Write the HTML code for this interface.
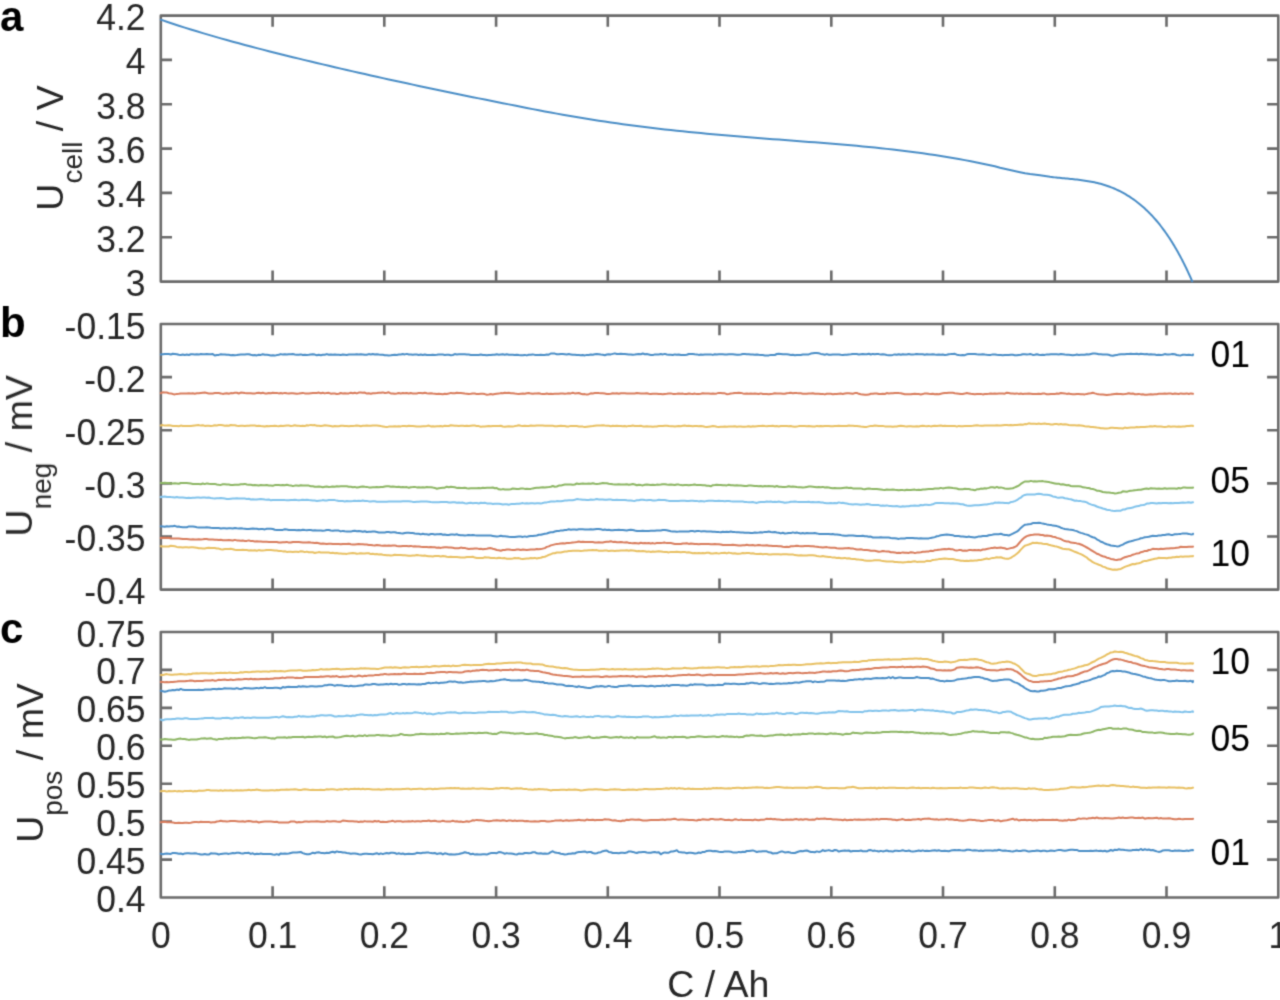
<!DOCTYPE html>
<html><head><meta charset="utf-8"><style>
html,body{margin:0;padding:0;background:#fff;overflow:hidden;}
svg{display:block;}
.t{font-family:"Liberation Sans",Arial,sans-serif;font-size:35.5px;fill:#262626;}
.l{font-family:"Liberation Sans",Arial,sans-serif;font-size:37.5px;fill:#262626;}
.p{font-family:"Liberation Sans",Arial,sans-serif;font-size:42px;font-weight:bold;fill:#000;}
.a{font-family:"Liberation Sans",Arial,sans-serif;font-size:35.5px;fill:#000;}
</style></head><body>
<svg width="1280" height="1000" viewBox="0 0 1280 1000">
<defs><filter id="bl" x="0" y="0" width="1280" height="1000" filterUnits="userSpaceOnUse"><feConvolveMatrix order="3" kernelMatrix="0.0277 0.1110 0.0277 0.1110 0.4452 0.1110 0.0277 0.1110 0.0277" divisor="1" preserveAlpha="false" edgeMode="none"/></filter></defs>
<rect width="1280" height="1000" fill="#fff"/>
<g filter="url(#bl)">
<path d="M160.8 237.3h11.2M1278.3 237.3h-11.2M160.8 192.9h11.2M1278.3 192.9h-11.2M160.8 148.6h11.2M1278.3 148.6h-11.2M160.8 104.3h11.2M1278.3 104.3h-11.2M160.8 59.9h11.2M1278.3 59.9h-11.2M272.6 281.6v-11.2M272.6 15.6v11.2M384.3 281.6v-11.2M384.3 15.6v11.2M496.1 281.6v-11.2M496.1 15.6v11.2M607.8 281.6v-11.2M607.8 15.6v11.2M719.5 281.6v-11.2M719.5 15.6v11.2M831.3 281.6v-11.2M831.3 15.6v11.2M943.0 281.6v-11.2M943.0 15.6v11.2M1054.8 281.6v-11.2M1054.8 15.6v11.2M1166.5 281.6v-11.2M1166.5 15.6v11.2" stroke="#6a6a6a" stroke-width="2.6" fill="none"/>
<rect x="160.8" y="15.6" width="1117.5" height="266.0" fill="none" stroke="#6a6a6a" stroke-width="2.6" stroke-linejoin="round"/>
<text transform="translate(145.5 296.1) scale(1 1.045)" text-anchor="end" class="t">3</text>
<text transform="translate(145.5 251.8) scale(1 1.045)" text-anchor="end" class="t">3.2</text>
<text transform="translate(145.5 207.4) scale(1 1.045)" text-anchor="end" class="t">3.4</text>
<text transform="translate(145.5 163.1) scale(1 1.045)" text-anchor="end" class="t">3.6</text>
<text transform="translate(145.5 118.8) scale(1 1.045)" text-anchor="end" class="t">3.8</text>
<text transform="translate(145.5 74.4) scale(1 1.045)" text-anchor="end" class="t">4</text>
<text transform="translate(145.5 30.1) scale(1 1.045)" text-anchor="end" class="t">4.2</text>
<path d="M160.8 536.5h11.2M1278.3 536.5h-11.2M160.8 483.4h11.2M1278.3 483.4h-11.2M160.8 430.2h11.2M1278.3 430.2h-11.2M160.8 377.1h11.2M1278.3 377.1h-11.2M272.6 589.6v-11.2M272.6 324.0v11.2M384.3 589.6v-11.2M384.3 324.0v11.2M496.1 589.6v-11.2M496.1 324.0v11.2M607.8 589.6v-11.2M607.8 324.0v11.2M719.5 589.6v-11.2M719.5 324.0v11.2M831.3 589.6v-11.2M831.3 324.0v11.2M943.0 589.6v-11.2M943.0 324.0v11.2M1054.8 589.6v-11.2M1054.8 324.0v11.2M1166.5 589.6v-11.2M1166.5 324.0v11.2" stroke="#6a6a6a" stroke-width="2.6" fill="none"/>
<rect x="160.8" y="324.0" width="1117.5" height="265.6" fill="none" stroke="#6a6a6a" stroke-width="2.6" stroke-linejoin="round"/>
<text transform="translate(145.5 604.1) scale(1 1.045)" text-anchor="end" class="t">-0.4</text>
<text transform="translate(145.5 551.0) scale(1 1.045)" text-anchor="end" class="t">-0.35</text>
<text transform="translate(145.5 497.9) scale(1 1.045)" text-anchor="end" class="t">-0.3</text>
<text transform="translate(145.5 444.7) scale(1 1.045)" text-anchor="end" class="t">-0.25</text>
<text transform="translate(145.5 391.6) scale(1 1.045)" text-anchor="end" class="t">-0.2</text>
<text transform="translate(145.5 338.5) scale(1 1.045)" text-anchor="end" class="t">-0.15</text>
<path d="M160.8 859.6h11.2M1278.3 859.6h-11.2M160.8 821.6h11.2M1278.3 821.6h-11.2M160.8 783.7h11.2M1278.3 783.7h-11.2M160.8 745.8h11.2M1278.3 745.8h-11.2M160.8 707.9h11.2M1278.3 707.9h-11.2M160.8 669.9h11.2M1278.3 669.9h-11.2M272.6 897.5v-11.2M272.6 632.0v11.2M384.3 897.5v-11.2M384.3 632.0v11.2M496.1 897.5v-11.2M496.1 632.0v11.2M607.8 897.5v-11.2M607.8 632.0v11.2M719.5 897.5v-11.2M719.5 632.0v11.2M831.3 897.5v-11.2M831.3 632.0v11.2M943.0 897.5v-11.2M943.0 632.0v11.2M1054.8 897.5v-11.2M1054.8 632.0v11.2M1166.5 897.5v-11.2M1166.5 632.0v11.2" stroke="#6a6a6a" stroke-width="2.6" fill="none"/>
<rect x="160.8" y="632.0" width="1117.5" height="265.5" fill="none" stroke="#6a6a6a" stroke-width="2.6" stroke-linejoin="round"/>
<text transform="translate(145.5 912.0) scale(1 1.045)" text-anchor="end" class="t">0.4</text>
<text transform="translate(145.5 874.1) scale(1 1.045)" text-anchor="end" class="t">0.45</text>
<text transform="translate(145.5 836.1) scale(1 1.045)" text-anchor="end" class="t">0.5</text>
<text transform="translate(145.5 798.2) scale(1 1.045)" text-anchor="end" class="t">0.55</text>
<text transform="translate(145.5 760.3) scale(1 1.045)" text-anchor="end" class="t">0.6</text>
<text transform="translate(145.5 722.4) scale(1 1.045)" text-anchor="end" class="t">0.65</text>
<text transform="translate(145.5 684.4) scale(1 1.045)" text-anchor="end" class="t">0.7</text>
<text transform="translate(145.5 646.5) scale(1 1.045)" text-anchor="end" class="t">0.75</text>
<path d="M160.80 19.67L166.80 21.72L172.80 23.72L178.80 25.68L184.80 27.60L190.80 29.49L196.80 31.33L202.80 33.14L208.80 34.91L214.80 36.66L220.80 38.37L226.80 40.05L232.80 41.71L238.80 43.34L244.80 44.95L250.80 46.54L256.80 48.11L262.80 49.65L268.80 51.18L274.80 52.70L280.80 54.20L286.80 55.70L292.80 57.17L298.80 58.64L304.80 60.10L310.80 61.55L316.80 62.98L322.80 64.40L328.80 65.82L334.80 67.22L340.80 68.62L346.80 70.00L352.80 71.37L358.80 72.74L364.80 74.09L370.80 75.44L376.80 76.78L382.80 78.11L388.80 79.43L394.80 80.74L400.80 82.05L406.80 83.34L412.80 84.63L418.80 85.91L424.80 87.19L430.80 88.46L436.80 89.72L442.80 90.97L448.80 92.22L454.80 93.46L460.80 94.70L466.80 95.92L472.80 97.15L478.80 98.37L484.80 99.58L490.80 100.79L496.80 101.99L502.80 103.19L508.80 104.39L514.80 105.58L520.80 106.76L526.80 107.94L532.80 109.11L538.80 110.26L544.80 111.40L550.80 112.52L556.80 113.63L562.80 114.71L568.80 115.77L574.80 116.81L580.80 117.82L586.80 118.80L592.80 119.76L598.80 120.70L604.80 121.61L610.80 122.49L616.80 123.35L622.80 124.19L628.80 125.01L634.80 125.80L640.80 126.57L646.80 127.31L652.80 128.03L658.80 128.73L664.80 129.41L670.80 130.07L676.80 130.72L682.80 131.34L688.80 131.94L694.80 132.53L700.80 133.11L706.80 133.67L712.80 134.22L718.80 134.75L724.80 135.27L730.80 135.78L736.80 136.28L742.80 136.78L748.80 137.26L754.80 137.74L760.80 138.21L766.80 138.68L772.80 139.14L778.80 139.60L784.80 140.05L790.80 140.50L796.80 140.96L802.80 141.42L808.80 141.88L814.80 142.34L820.80 142.81L826.80 143.29L832.80 143.78L838.80 144.28L844.80 144.79L850.80 145.32L856.80 145.86L862.80 146.42L868.80 147.00L874.80 147.60L880.80 148.23L886.80 148.87L892.80 149.54L898.80 150.24L904.80 150.97L910.80 151.72L916.80 152.51L922.80 153.33L928.80 154.18L934.80 155.07L940.80 156.00L946.80 156.97L952.80 157.98L958.80 159.03L964.80 160.12L970.80 161.26L976.80 162.45L982.80 163.68L988.80 164.96L994.80 166.30L1000.00 167.80L1010.00 170.00L1020.00 172.20L1025.00 173.30L1030.00 174.10L1040.00 175.30L1050.02 176.85L1051.57 177.03L1053.13 177.21L1054.69 177.38L1056.26 177.54L1057.84 177.70L1059.41 177.85L1061.00 178.01L1062.58 178.16L1064.18 178.31L1065.77 178.46L1067.36 178.61L1068.96 178.76L1070.56 178.92L1072.16 179.08L1073.76 179.25L1075.36 179.42L1076.97 179.60L1078.57 179.79L1080.17 179.99L1081.76 180.20L1083.36 180.42L1084.95 180.65L1086.54 180.89L1088.13 181.15L1089.71 181.42L1091.29 181.71L1092.86 182.02L1094.43 182.34L1095.99 182.69L1097.55 183.05L1099.10 183.43L1100.64 183.84L1102.18 184.27L1103.70 184.72L1105.22 185.19L1106.73 185.69L1108.23 186.22L1109.72 186.76L1111.21 187.33L1112.68 187.92L1114.14 188.54L1115.60 189.17L1117.04 189.83L1118.47 190.51L1119.90 191.21L1121.31 191.93L1122.71 192.68L1124.09 193.44L1125.47 194.23L1126.84 195.03L1128.19 195.86L1129.53 196.71L1130.85 197.57L1132.17 198.46L1133.47 199.36L1134.76 200.28L1136.03 201.23L1137.29 202.19L1138.54 203.17L1139.77 204.16L1140.99 205.18L1142.19 206.21L1143.39 207.26L1144.57 208.32L1145.73 209.40L1146.89 210.50L1148.03 211.61L1149.16 212.73L1150.27 213.87L1151.38 215.03L1152.47 216.19L1153.55 217.38L1154.61 218.57L1155.67 219.78L1156.71 221.00L1157.74 222.23L1158.76 223.47L1159.77 224.72L1160.76 225.99L1161.74 227.26L1162.72 228.55L1163.68 229.84L1164.63 231.15L1165.57 232.46L1166.49 233.78L1167.41 235.11L1168.32 236.45L1169.21 237.80L1170.10 239.15L1170.97 240.51L1171.84 241.87L1172.69 243.24L1173.53 244.62L1174.37 246.00L1175.19 247.39L1176.00 248.78L1176.81 250.18L1177.60 251.58L1178.38 252.99L1179.16 254.39L1179.92 255.80L1180.68 257.21L1181.43 258.63L1182.16 260.04L1182.89 261.46L1183.61 262.88L1184.32 264.30L1185.02 265.72L1185.72 267.13L1186.40 268.55L1187.08 269.97L1187.75 271.39L1188.41 272.80L1189.06 274.21L1189.70 275.62L1190.34 277.03L1190.97 278.43L1191.59 279.83L1192.20 281.23" fill="none" stroke="#4a8dc6" stroke-width="2.0" stroke-linejoin="round" stroke-linecap="round"/>
<path d="M160.8 354.5L162.8 354.3L164.8 354.1L166.8 354.1L168.8 354.0L170.8 354.5L172.8 353.8L174.8 353.9L176.8 354.3L178.8 354.8L180.8 354.9L182.8 354.6L184.8 354.9L186.8 354.6L188.8 355.0L190.8 354.2L192.8 354.3L194.8 354.5L196.8 354.2L198.8 354.6L200.8 354.0L202.8 354.2L204.8 354.2L206.8 354.0L208.8 354.3L210.8 354.3L212.8 354.1L214.8 355.5L216.8 355.0L218.8 354.9L220.8 354.3L222.8 354.5L224.8 354.4L226.8 354.8L228.8 354.8L230.8 355.2L232.8 355.0L234.8 355.2L236.8 355.1L238.8 354.8L240.8 354.6L242.8 354.6L244.8 354.4L246.8 354.2L248.8 354.3L250.8 354.8L252.8 355.2L254.8 355.1L256.8 355.4L258.8 354.8L260.8 354.9L262.8 354.3L264.8 354.7L266.8 354.8L268.8 355.0L270.8 355.4L272.8 355.3L274.8 355.6L276.8 355.1L278.8 354.8L280.8 354.1L282.8 354.6L284.8 354.2L286.8 354.6L288.8 354.2L290.8 354.2L292.8 354.1L294.8 354.5L296.8 354.8L298.8 354.8L300.8 354.4L302.8 355.0L304.8 354.8L306.8 354.9L308.8 354.8L310.8 354.5L312.8 354.2L314.8 354.6L316.8 355.2L318.8 354.8L320.8 355.2L322.8 354.7L324.8 354.7L326.8 354.1L328.8 354.8L330.8 354.5L332.8 354.7L334.8 354.5L336.8 354.7L338.8 354.7L340.8 355.0L342.8 354.6L344.8 354.7L346.8 354.9L348.8 354.6L350.8 354.5L352.8 354.5L354.8 354.5L356.8 354.2L358.8 354.4L360.8 354.2L362.8 354.4L364.8 354.7L366.8 354.7L368.8 354.1L370.8 354.4L372.8 354.0L374.8 354.5L376.8 354.2L378.8 354.5L380.8 354.7L382.8 354.8L384.8 355.3L386.8 355.2L388.8 355.4L390.8 355.3L392.8 355.0L394.8 354.8L396.8 354.9L398.8 354.6L400.8 354.4L402.8 354.1L404.8 354.4L406.8 353.9L408.8 354.5L410.8 354.4L412.8 354.7L414.8 354.5L416.8 354.5L418.8 354.9L420.8 354.5L422.8 354.9L424.8 354.5L426.8 355.0L428.8 355.1L430.8 355.1L432.8 354.7L434.8 354.9L436.8 354.8L438.8 354.6L440.8 354.5L442.8 354.6L444.8 354.9L446.8 354.8L448.8 354.8L450.8 355.3L452.8 355.0L454.8 354.1L456.8 354.4L458.8 354.3L460.8 354.3L462.8 354.2L464.8 354.2L466.8 354.5L468.8 354.6L470.8 354.9L472.8 354.9L474.8 354.9L476.8 355.0L478.8 354.9L480.8 354.5L482.8 354.9L484.8 354.9L486.8 355.3L488.8 354.9L490.8 355.1L492.8 354.7L494.8 354.8L496.8 354.3L498.8 354.7L500.8 354.4L502.8 354.3L504.8 354.7L506.8 354.3L508.8 354.7L510.8 354.7L512.8 354.7L514.8 355.0L516.8 354.7L518.8 355.1L520.8 355.2L522.8 355.2L524.8 354.9L526.8 355.4L528.8 354.8L530.8 354.7L532.8 354.4L534.8 354.9L536.8 355.0L538.8 354.9L540.8 354.8L542.8 355.0L544.8 354.9L546.8 354.6L548.8 354.7L550.8 353.5L552.8 353.5L554.8 353.6L556.8 354.2L558.8 354.2L560.8 353.9L562.8 354.1L564.8 354.3L566.8 354.5L568.8 354.1L570.8 354.4L572.8 354.7L574.8 354.7L576.8 355.1L578.8 355.1L580.8 355.3L582.8 355.0L584.8 355.4L586.8 354.9L588.8 355.0L590.8 354.6L592.8 354.7L594.8 354.2L596.8 354.1L598.8 354.2L600.8 354.5L602.8 354.7L604.8 355.2L606.8 354.5L608.8 354.2L610.8 354.4L612.8 353.9L614.8 353.4L616.8 354.0L618.8 354.1L620.8 353.7L622.8 354.1L624.8 354.0L626.8 354.2L628.8 354.4L630.8 354.4L632.8 354.8L634.8 354.6L636.8 354.3L638.8 354.1L640.8 354.2L642.8 353.5L644.8 354.2L646.8 354.1L648.8 354.5L650.8 354.9L652.8 355.1L654.8 354.4L656.8 354.5L658.8 354.4L660.8 354.1L662.8 354.4L664.8 353.9L666.8 354.5L668.8 354.7L670.8 354.8L672.8 355.0L674.8 354.4L676.8 354.8L678.8 354.5L680.8 355.0L682.8 354.9L684.8 355.1L686.8 354.8L688.8 354.0L690.8 354.0L692.8 354.1L694.8 354.3L696.8 354.4L698.8 354.9L700.8 354.5L702.8 354.7L704.8 354.4L706.8 354.4L708.8 354.6L710.8 354.4L712.8 354.9L714.8 354.3L716.8 354.4L718.8 354.2L720.8 354.2L722.8 354.3L724.8 354.4L726.8 354.5L728.8 354.3L730.8 354.3L732.8 354.3L734.8 354.5L736.8 354.7L738.8 354.7L740.8 354.5L742.8 354.1L744.8 354.1L746.8 354.2L748.8 354.3L750.8 354.6L752.8 354.5L754.8 354.7L756.8 354.4L758.8 354.7L760.8 354.9L762.8 355.1L764.8 355.4L766.8 355.4L768.8 355.4L770.8 354.9L772.8 355.0L774.8 355.0L776.8 354.0L778.8 353.8L780.8 354.0L782.8 354.3L784.8 354.3L786.8 354.3L788.8 354.5L790.8 354.9L792.8 354.8L794.8 355.3L796.8 355.0L798.8 355.0L800.8 355.0L802.8 354.6L804.8 354.4L806.8 354.5L808.8 354.4L810.8 353.6L812.8 353.2L814.8 352.9L816.8 353.0L818.8 353.3L820.8 353.9L822.8 354.3L824.8 354.7L826.8 354.1L828.8 354.8L830.8 354.7L832.8 354.4L834.8 354.5L836.8 354.5L838.8 354.4L840.8 354.7L842.8 354.9L844.8 354.7L846.8 354.8L848.8 354.4L850.8 354.3L852.8 354.1L854.8 354.1L856.8 354.1L858.8 354.5L860.8 354.2L862.8 354.0L864.8 354.3L866.8 354.2L868.8 353.7L870.8 354.5L872.8 353.9L874.8 354.3L876.8 354.0L878.8 354.1L880.8 354.6L882.8 354.3L884.8 354.6L886.8 355.0L888.8 355.2L890.8 355.3L892.8 354.9L894.8 354.4L896.8 354.8L898.8 354.3L900.8 354.8L902.8 354.2L904.8 354.5L906.8 354.5L908.8 354.1L910.8 354.4L912.8 354.5L914.8 354.3L916.8 354.0L918.8 354.2L920.8 354.2L922.8 354.2L924.8 354.7L926.8 354.3L928.8 354.6L930.8 354.4L932.8 354.2L934.8 354.5L936.8 354.7L938.8 354.6L940.8 354.8L942.8 354.6L944.8 355.0L946.8 354.8L948.8 354.2L950.8 354.1L952.8 353.9L954.8 353.8L956.8 354.7L958.8 355.1L960.8 355.3L962.8 355.1L964.8 355.2L966.8 354.3L968.8 354.1L970.8 354.1L972.8 354.0L974.8 353.9L976.8 354.2L978.8 354.4L980.8 354.6L982.8 354.3L984.8 354.6L986.8 354.8L988.8 354.9L990.8 354.9L992.8 354.4L994.8 354.5L996.8 354.8L998.8 354.9L1000.8 355.1L1002.8 355.3L1004.8 355.1L1006.8 355.1L1008.8 354.9L1010.8 354.7L1012.8 354.8L1014.8 355.2L1016.8 355.2L1018.8 354.9L1020.8 354.7L1022.8 354.2L1024.8 354.3L1026.8 354.4L1028.8 354.3L1030.8 354.1L1032.8 354.9L1034.8 354.7L1036.8 354.2L1038.8 354.8L1040.8 355.0L1042.8 354.8L1044.8 354.9L1046.8 354.4L1048.8 354.5L1050.8 354.3L1052.8 354.3L1054.8 354.2L1056.8 354.3L1058.8 354.4L1060.8 354.1L1062.8 354.3L1064.8 354.6L1066.8 354.7L1068.8 354.8L1070.8 355.0L1072.8 355.3L1074.8 355.1L1076.8 354.5L1078.8 354.9L1080.8 354.8L1082.8 354.7L1084.8 354.7L1086.8 354.2L1088.8 354.5L1090.8 354.0L1092.8 353.5L1094.8 353.6L1096.8 353.8L1098.8 354.3L1100.8 354.3L1102.8 354.6L1104.8 354.6L1106.8 354.5L1108.8 354.8L1110.8 355.6L1112.8 355.7L1114.8 355.2L1116.8 355.1L1118.8 354.4L1120.8 354.2L1122.8 354.2L1124.8 354.3L1126.8 354.1L1128.8 354.0L1130.8 353.8L1132.8 353.9L1134.8 354.0L1136.8 353.7L1138.8 354.2L1140.8 353.7L1142.8 353.9L1144.8 354.2L1146.8 354.1L1148.8 354.5L1150.8 354.2L1152.8 354.6L1154.8 354.5L1156.8 355.1L1158.8 354.7L1160.8 354.9L1162.8 354.8L1164.8 354.1L1166.8 354.5L1168.8 354.4L1170.8 354.3L1172.8 354.1L1174.8 354.3L1176.8 355.0L1178.8 355.3L1180.8 355.4L1182.8 354.8L1184.8 354.8L1186.8 355.1L1188.8 354.8L1190.8 355.1L1192.8 355.3L1193.0 354.5" fill="none" stroke="#4a8dc6" stroke-width="2.0" stroke-linejoin="round" stroke-linecap="round"/>
<path d="M160.8 393.2L162.8 392.3L164.8 392.4L166.8 392.5L168.8 393.2L170.8 393.4L172.8 394.0L174.8 394.4L176.8 393.9L178.8 393.7L180.8 393.4L182.8 393.6L184.8 393.6L186.8 393.4L188.8 393.3L190.8 393.4L192.8 393.3L194.8 393.7L196.8 393.3L198.8 393.3L200.8 393.0L202.8 392.7L204.8 392.6L206.8 393.0L208.8 393.4L210.8 393.4L212.8 393.4L214.8 393.1L216.8 393.1L218.8 393.0L220.8 393.4L222.8 393.9L224.8 393.6L226.8 393.3L228.8 393.8L230.8 393.1L232.8 393.2L234.8 392.8L236.8 392.8L238.8 393.5L240.8 392.6L242.8 392.7L244.8 393.1L246.8 393.3L248.8 393.3L250.8 393.3L252.8 393.6L254.8 393.6L256.8 392.9L258.8 392.7L260.8 393.3L262.8 392.7L264.8 393.4L266.8 393.5L268.8 393.1L270.8 393.3L272.8 392.8L274.8 392.9L276.8 392.9L278.8 393.4L280.8 393.1L282.8 393.4L284.8 392.9L286.8 393.2L288.8 393.4L290.8 393.3L292.8 393.3L294.8 393.5L296.8 393.7L298.8 393.5L300.8 393.2L302.8 392.9L304.8 393.4L306.8 393.6L308.8 393.5L310.8 393.3L312.8 393.1L314.8 392.9L316.8 392.9L318.8 392.6L320.8 393.3L322.8 392.8L324.8 393.4L326.8 392.9L328.8 392.8L330.8 393.7L332.8 393.4L334.8 393.6L336.8 394.0L338.8 393.8L340.8 393.0L342.8 393.4L344.8 393.2L346.8 393.4L348.8 393.4L350.8 392.8L352.8 393.3L354.8 392.8L356.8 393.4L358.8 392.6L360.8 392.5L362.8 392.7L364.8 392.6L366.8 393.6L368.8 393.3L370.8 393.7L372.8 393.2L374.8 393.3L376.8 393.1L378.8 392.8L380.8 392.8L382.8 392.4L384.8 393.0L386.8 392.8L388.8 392.3L390.8 393.5L392.8 393.4L394.8 393.8L396.8 393.5L398.8 393.1L400.8 393.4L402.8 393.1L404.8 393.3L406.8 393.1L408.8 393.4L410.8 393.1L412.8 393.5L414.8 393.4L416.8 393.5L418.8 392.9L420.8 393.0L422.8 393.3L424.8 392.7L426.8 393.2L428.8 393.4L430.8 393.3L432.8 393.6L434.8 393.7L436.8 394.0L438.8 393.8L440.8 394.0L442.8 394.2L444.8 393.8L446.8 394.0L448.8 393.6L450.8 392.9L452.8 393.2L454.8 393.3L456.8 392.8L458.8 393.0L460.8 393.1L462.8 393.2L464.8 393.5L466.8 393.7L468.8 394.0L470.8 393.8L472.8 393.5L474.8 393.5L476.8 394.1L478.8 393.9L480.8 393.7L482.8 393.8L484.8 394.1L486.8 394.7L488.8 394.5L490.8 394.1L492.8 394.4L494.8 394.0L496.8 393.7L498.8 393.6L500.8 393.1L502.8 393.3L504.8 392.7L506.8 392.9L508.8 392.8L510.8 393.2L512.8 393.3L514.8 393.6L516.8 393.8L518.8 393.9L520.8 393.7L522.8 393.6L524.8 393.7L526.8 393.2L528.8 393.0L530.8 393.6L532.8 393.8L534.8 393.4L536.8 393.4L538.8 393.3L540.8 393.7L542.8 394.0L544.8 393.9L546.8 393.6L548.8 394.0L550.8 393.7L552.8 393.9L554.8 393.8L556.8 393.8L558.8 393.8L560.8 393.5L562.8 393.6L564.8 393.8L566.8 393.6L568.8 393.3L570.8 393.4L572.8 392.8L574.8 393.4L576.8 393.2L578.8 393.0L580.8 393.8L582.8 394.3L584.8 394.1L586.8 394.6L588.8 394.2L590.8 393.3L592.8 393.4L594.8 393.1L596.8 392.9L598.8 393.1L600.8 393.2L602.8 393.2L604.8 393.5L606.8 393.9L608.8 394.0L610.8 393.8L612.8 393.3L614.8 393.4L616.8 393.3L618.8 393.8L620.8 393.2L622.8 393.2L624.8 393.3L626.8 393.5L628.8 393.5L630.8 393.6L632.8 393.5L634.8 393.4L636.8 393.0L638.8 393.2L640.8 393.4L642.8 393.4L644.8 393.6L646.8 393.2L648.8 393.7L650.8 394.0L652.8 393.7L654.8 393.8L656.8 393.8L658.8 394.0L660.8 394.0L662.8 394.2L664.8 393.9L666.8 393.8L668.8 393.6L670.8 393.4L672.8 393.9L674.8 393.9L676.8 393.8L678.8 393.6L680.8 393.7L682.8 393.6L684.8 394.1L686.8 394.0L688.8 393.6L690.8 393.8L692.8 393.9L694.8 393.6L696.8 394.1L698.8 393.9L700.8 393.7L702.8 393.3L704.8 393.4L706.8 393.6L708.8 393.5L710.8 393.7L712.8 393.6L714.8 393.8L716.8 393.4L718.8 392.9L720.8 393.0L722.8 393.2L724.8 393.3L726.8 394.2L728.8 393.9L730.8 393.5L732.8 393.3L734.8 392.9L736.8 393.1L738.8 392.7L740.8 392.9L742.8 393.4L744.8 393.8L746.8 393.6L748.8 393.7L750.8 393.5L752.8 393.7L754.8 393.6L756.8 393.7L758.8 394.0L760.8 393.4L762.8 394.0L764.8 393.9L766.8 393.9L768.8 394.2L770.8 393.9L772.8 393.8L774.8 393.2L776.8 393.4L778.8 393.4L780.8 393.4L782.8 393.7L784.8 393.7L786.8 393.2L788.8 393.1L790.8 392.8L792.8 393.2L794.8 392.9L796.8 393.1L798.8 393.2L800.8 393.3L802.8 393.7L804.8 393.7L806.8 393.8L808.8 393.4L810.8 393.4L812.8 393.2L814.8 393.7L816.8 393.8L818.8 393.8L820.8 394.1L822.8 393.9L824.8 394.4L826.8 393.7L828.8 393.8L830.8 393.8L832.8 394.2L834.8 393.9L836.8 394.0L838.8 393.8L840.8 393.6L842.8 394.0L844.8 393.6L846.8 393.2L848.8 393.3L850.8 393.5L852.8 393.8L854.8 393.1L856.8 392.9L858.8 393.8L860.8 394.2L862.8 394.5L864.8 394.8L866.8 394.7L868.8 394.6L870.8 393.8L872.8 393.8L874.8 393.4L876.8 393.5L878.8 394.0L880.8 393.9L882.8 393.8L884.8 394.0L886.8 393.1L888.8 393.4L890.8 393.3L892.8 393.3L894.8 393.1L896.8 392.9L898.8 393.1L900.8 393.2L902.8 393.7L904.8 394.2L906.8 394.2L908.8 394.2L910.8 394.3L912.8 393.9L914.8 393.8L916.8 393.9L918.8 394.1L920.8 394.4L922.8 394.1L924.8 393.4L926.8 393.4L928.8 393.8L930.8 393.9L932.8 393.7L934.8 394.2L936.8 394.1L938.8 394.3L940.8 393.7L942.8 393.3L944.8 393.0L946.8 393.0L948.8 392.7L950.8 392.8L952.8 392.8L954.8 393.3L956.8 393.4L958.8 393.7L960.8 394.0L962.8 394.0L964.8 393.6L966.8 393.0L968.8 393.4L970.8 393.8L972.8 394.0L974.8 394.2L976.8 394.1L978.8 394.1L980.8 393.9L982.8 394.4L984.8 394.0L986.8 393.9L988.8 393.8L990.8 393.5L992.8 393.8L994.8 393.5L996.8 393.7L998.8 393.5L1000.8 393.6L1002.8 393.5L1004.8 393.7L1006.8 392.7L1008.8 393.1L1010.8 393.5L1012.8 393.4L1014.8 393.7L1016.8 393.4L1018.8 393.9L1020.8 393.5L1022.8 393.9L1024.8 393.8L1026.8 393.7L1028.8 393.6L1030.8 393.8L1032.8 394.1L1034.8 394.0L1036.8 394.1L1038.8 393.7L1040.8 394.0L1042.8 393.6L1044.8 393.6L1046.8 394.2L1048.8 394.3L1050.8 394.1L1052.8 393.9L1054.8 394.1L1056.8 393.5L1058.8 393.7L1060.8 393.0L1062.8 393.2L1064.8 393.4L1066.8 393.9L1068.8 393.5L1070.8 394.1L1072.8 394.2L1074.8 394.3L1076.8 394.1L1078.8 394.0L1080.8 394.2L1082.8 394.2L1084.8 394.4L1086.8 393.9L1088.8 393.5L1090.8 393.3L1092.8 392.7L1094.8 393.4L1096.8 393.9L1098.8 394.3L1100.8 394.4L1102.8 394.5L1104.8 394.7L1106.8 395.0L1108.8 394.8L1110.8 394.6L1112.8 394.3L1114.8 394.0L1116.8 393.8L1118.8 393.9L1120.8 393.9L1122.8 394.2L1124.8 394.0L1126.8 393.7L1128.8 393.2L1130.8 393.8L1132.8 393.4L1134.8 394.2L1136.8 394.3L1138.8 393.9L1140.8 394.4L1142.8 394.3L1144.8 394.7L1146.8 394.8L1148.8 394.5L1150.8 394.2L1152.8 394.5L1154.8 394.3L1156.8 394.2L1158.8 393.8L1160.8 393.8L1162.8 393.8L1164.8 393.5L1166.8 393.7L1168.8 393.4L1170.8 393.5L1172.8 393.9L1174.8 393.6L1176.8 393.8L1178.8 394.0L1180.8 393.4L1182.8 393.7L1184.8 393.8L1186.8 393.4L1188.8 394.0L1190.8 393.4L1192.8 393.7L1193.0 393.8" fill="none" stroke="#d87c5c" stroke-width="2.0" stroke-linejoin="round" stroke-linecap="round"/>
<path d="M160.8 425.5L162.8 425.1L164.8 425.6L166.8 425.4L168.8 425.3L170.8 425.6L172.8 426.0L174.8 426.0L176.8 425.9L178.8 426.2L180.8 425.6L182.8 425.9L184.8 426.0L186.8 425.9L188.8 426.1L190.8 426.0L192.8 425.7L194.8 425.4L196.8 425.2L198.8 425.1L200.8 425.6L202.8 425.3L204.8 425.9L206.8 425.7L208.8 425.8L210.8 425.9L212.8 425.7L214.8 425.3L216.8 425.4L218.8 425.1L220.8 425.0L222.8 425.3L224.8 425.7L226.8 425.6L228.8 425.8L230.8 425.0L232.8 425.2L234.8 425.3L236.8 425.8L238.8 425.9L240.8 425.8L242.8 425.8L244.8 425.9L246.8 425.7L248.8 425.8L250.8 425.4L252.8 425.6L254.8 425.5L256.8 426.0L258.8 425.8L260.8 426.1L262.8 426.2L264.8 426.5L266.8 426.0L268.8 426.3L270.8 426.0L272.8 426.0L274.8 425.7L276.8 426.0L278.8 426.2L280.8 425.8L282.8 425.9L284.8 425.7L286.8 425.5L288.8 425.6L290.8 425.9L292.8 425.7L294.8 425.2L296.8 425.7L298.8 425.7L300.8 426.0L302.8 425.8L304.8 426.1L306.8 425.3L308.8 425.4L310.8 424.9L312.8 425.2L314.8 425.1L316.8 425.8L318.8 425.8L320.8 426.1L322.8 425.7L324.8 425.3L326.8 425.5L328.8 425.7L330.8 426.1L332.8 426.5L334.8 426.0L336.8 426.2L338.8 426.3L340.8 425.8L342.8 425.8L344.8 426.1L346.8 426.1L348.8 426.2L350.8 426.0L352.8 425.9L354.8 425.8L356.8 425.5L358.8 425.7L360.8 426.2L362.8 425.8L364.8 425.8L366.8 425.6L368.8 425.7L370.8 425.8L372.8 425.6L374.8 425.5L376.8 425.4L378.8 425.7L380.8 426.1L382.8 426.4L384.8 426.8L386.8 427.1L388.8 426.6L390.8 426.4L392.8 426.4L394.8 426.3L396.8 426.4L398.8 426.2L400.8 426.4L402.8 425.9L404.8 426.0L406.8 426.2L408.8 425.7L410.8 426.0L412.8 426.1L414.8 426.2L416.8 426.6L418.8 426.6L420.8 426.4L422.8 426.3L424.8 426.2L426.8 426.0L428.8 425.6L430.8 426.4L432.8 426.2L434.8 426.4L436.8 426.3L438.8 426.2L440.8 426.0L442.8 426.4L444.8 425.7L446.8 426.0L448.8 426.0L450.8 425.3L452.8 425.5L454.8 425.8L456.8 425.8L458.8 425.9L460.8 425.8L462.8 425.7L464.8 425.9L466.8 425.7L468.8 425.9L470.8 425.7L472.8 425.5L474.8 425.5L476.8 426.1L478.8 426.1L480.8 426.7L482.8 426.6L484.8 426.6L486.8 426.3L488.8 426.1L490.8 426.3L492.8 426.1L494.8 426.1L496.8 426.1L498.8 425.9L500.8 425.7L502.8 426.5L504.8 426.8L506.8 426.5L508.8 426.3L510.8 426.5L512.8 426.6L514.8 426.1L516.8 425.8L518.8 425.3L520.8 425.7L522.8 426.0L524.8 425.7L526.8 425.9L528.8 425.9L530.8 425.5L532.8 425.8L534.8 425.8L536.8 425.5L538.8 425.5L540.8 425.6L542.8 425.6L544.8 425.7L546.8 425.7L548.8 425.7L550.8 425.8L552.8 425.8L554.8 426.2L556.8 426.3L558.8 425.9L560.8 425.7L562.8 426.1L564.8 426.0L566.8 426.4L568.8 426.4L570.8 425.9L572.8 426.1L574.8 426.1L576.8 426.1L578.8 426.4L580.8 426.5L582.8 426.6L584.8 427.1L586.8 426.8L588.8 426.5L590.8 426.2L592.8 426.1L594.8 425.7L596.8 425.5L598.8 425.4L600.8 425.4L602.8 425.3L604.8 425.6L606.8 425.7L608.8 425.8L610.8 426.2L612.8 425.8L614.8 426.1L616.8 425.7L618.8 426.1L620.8 426.1L622.8 426.3L624.8 426.0L626.8 426.4L628.8 425.9L630.8 425.9L632.8 425.6L634.8 425.9L636.8 425.9L638.8 425.9L640.8 425.8L642.8 426.4L644.8 426.5L646.8 426.3L648.8 426.5L650.8 426.5L652.8 426.7L654.8 426.6L656.8 426.5L658.8 426.1L660.8 426.0L662.8 425.9L664.8 425.7L666.8 425.8L668.8 426.1L670.8 426.3L672.8 426.3L674.8 426.5L676.8 426.3L678.8 426.1L680.8 426.2L682.8 425.8L684.8 425.6L686.8 426.0L688.8 425.7L690.8 426.0L692.8 426.3L694.8 426.1L696.8 426.0L698.8 426.3L700.8 426.1L702.8 426.3L704.8 426.7L706.8 427.0L708.8 426.7L710.8 426.4L712.8 426.1L714.8 426.3L716.8 426.7L718.8 426.9L720.8 426.8L722.8 426.7L724.8 426.6L726.8 426.7L728.8 426.6L730.8 426.6L732.8 426.5L734.8 426.3L736.8 426.7L738.8 426.6L740.8 426.5L742.8 426.7L744.8 426.7L746.8 426.5L748.8 426.2L750.8 426.7L752.8 426.2L754.8 426.6L756.8 426.3L758.8 426.1L760.8 426.1L762.8 425.8L764.8 426.1L766.8 426.2L768.8 426.0L770.8 426.1L772.8 425.7L774.8 426.2L776.8 426.1L778.8 426.4L780.8 426.1L782.8 426.0L784.8 426.0L786.8 426.0L788.8 426.3L790.8 426.0L792.8 426.6L794.8 426.7L796.8 426.6L798.8 426.1L800.8 426.1L802.8 426.1L804.8 426.1L806.8 426.2L808.8 426.0L810.8 426.2L812.8 426.5L814.8 426.6L816.8 425.9L818.8 426.3L820.8 425.9L822.8 426.2L824.8 426.0L826.8 426.1L828.8 426.0L830.8 426.2L832.8 426.3L834.8 426.1L836.8 426.0L838.8 425.7L840.8 425.9L842.8 426.1L844.8 426.0L846.8 426.0L848.8 425.5L850.8 425.7L852.8 425.8L854.8 426.1L856.8 426.1L858.8 426.3L860.8 426.6L862.8 426.8L864.8 427.0L866.8 426.9L868.8 426.4L870.8 425.9L872.8 426.0L874.8 425.6L876.8 425.8L878.8 426.1L880.8 426.1L882.8 425.9L884.8 426.4L886.8 426.4L888.8 426.6L890.8 426.5L892.8 426.8L894.8 426.6L896.8 426.4L898.8 426.1L900.8 425.8L902.8 426.0L904.8 426.3L906.8 426.5L908.8 426.3L910.8 426.3L912.8 426.4L914.8 426.4L916.8 426.2L918.8 426.4L920.8 426.1L922.8 425.8L924.8 426.1L926.8 426.2L928.8 425.9L930.8 426.4L932.8 426.1L934.8 425.8L936.8 425.9L938.8 425.7L940.8 425.5L942.8 426.0L944.8 425.8L946.8 425.9L948.8 426.0L950.8 426.0L952.8 426.1L954.8 425.9L956.8 426.6L958.8 425.9L960.8 426.2L962.8 426.2L964.8 426.1L966.8 426.0L968.8 426.0L970.8 426.0L972.8 425.8L974.8 425.5L976.8 425.2L978.8 425.6L980.8 425.7L982.8 425.8L984.8 425.4L986.8 425.6L988.8 425.6L990.8 425.6L992.8 425.5L994.8 425.5L996.8 425.3L998.8 425.5L1000.8 425.5L1002.8 425.3L1004.8 425.1L1006.8 425.1L1008.8 425.3L1010.8 425.0L1012.8 425.2L1014.8 424.9L1016.8 425.1L1018.8 424.7L1020.8 424.4L1022.8 424.7L1024.8 424.1L1026.8 424.2L1028.8 423.3L1030.8 423.7L1032.8 423.7L1034.8 423.8L1036.8 423.9L1038.8 423.6L1040.8 423.9L1042.8 423.7L1044.8 423.5L1046.8 423.9L1048.8 424.1L1050.8 424.5L1052.8 424.4L1054.8 424.0L1056.8 424.1L1058.8 424.4L1060.8 424.0L1062.8 424.4L1064.8 424.2L1066.8 424.6L1068.8 425.0L1070.8 425.3L1072.8 425.2L1074.8 425.3L1076.8 425.5L1078.8 425.2L1080.8 425.4L1082.8 425.8L1084.8 426.2L1086.8 426.5L1088.8 426.6L1090.8 426.9L1092.8 427.0L1094.8 427.2L1096.8 427.6L1098.8 427.7L1100.8 428.2L1102.8 428.2L1104.8 428.5L1106.8 428.4L1108.8 428.2L1110.8 427.7L1112.8 427.8L1114.8 427.9L1116.8 427.9L1118.8 428.2L1120.8 428.3L1122.8 428.5L1124.8 427.6L1126.8 427.9L1128.8 427.7L1130.8 427.6L1132.8 427.5L1134.8 427.4L1136.8 427.0L1138.8 427.3L1140.8 427.0L1142.8 426.9L1144.8 426.9L1146.8 426.7L1148.8 426.6L1150.8 426.2L1152.8 426.4L1154.8 426.1L1156.8 426.4L1158.8 426.6L1160.8 426.6L1162.8 426.8L1164.8 426.9L1166.8 426.7L1168.8 426.3L1170.8 426.7L1172.8 426.5L1174.8 426.5L1176.8 426.7L1178.8 426.4L1180.8 426.8L1182.8 426.6L1184.8 426.5L1186.8 426.1L1188.8 426.1L1190.8 425.7L1192.8 425.8L1193.0 426.0" fill="none" stroke="#e8c062" stroke-width="2.0" stroke-linejoin="round" stroke-linecap="round"/>
<path d="M160.8 483.0L162.8 482.9L164.8 482.8L166.8 482.9L168.8 483.0L170.8 483.5L172.8 483.4L174.8 483.3L176.8 483.5L178.8 483.8L180.8 483.0L182.8 483.0L184.8 483.1L186.8 483.0L188.8 483.2L190.8 483.6L192.8 484.0L194.8 484.1L196.8 483.9L198.8 484.0L200.8 484.2L202.8 483.5L204.8 484.1L206.8 483.4L208.8 483.8L210.8 483.9L212.8 484.0L214.8 483.9L216.8 484.5L218.8 484.8L220.8 484.9L222.8 484.3L224.8 484.3L226.8 484.6L228.8 484.6L230.8 485.0L232.8 484.9L234.8 484.7L236.8 484.7L238.8 484.7L240.8 484.3L242.8 484.3L244.8 483.9L246.8 484.5L248.8 484.7L250.8 484.7L252.8 485.2L254.8 485.0L256.8 485.2L258.8 485.4L260.8 485.0L262.8 485.2L264.8 485.3L266.8 485.1L268.8 485.5L270.8 485.5L272.8 485.7L274.8 485.1L276.8 485.0L278.8 485.0L280.8 485.2L282.8 484.9L284.8 485.2L286.8 484.8L288.8 485.2L290.8 485.4L292.8 486.1L294.8 485.6L296.8 485.6L298.8 485.7L300.8 485.2L302.8 485.4L304.8 485.4L306.8 485.4L308.8 485.6L310.8 486.2L312.8 486.2L314.8 486.8L316.8 486.8L318.8 486.6L320.8 486.8L322.8 487.2L324.8 486.7L326.8 486.5L328.8 486.9L330.8 486.7L332.8 486.4L334.8 486.7L336.8 486.3L338.8 486.5L340.8 486.3L342.8 486.2L344.8 486.2L346.8 486.3L348.8 486.8L350.8 486.7L352.8 487.2L354.8 486.9L356.8 487.6L358.8 487.2L360.8 486.8L362.8 486.4L364.8 486.7L366.8 486.9L368.8 487.4L370.8 487.4L372.8 487.3L374.8 487.3L376.8 487.0L378.8 487.3L380.8 487.0L382.8 487.0L384.8 486.5L386.8 486.2L388.8 486.3L390.8 486.8L392.8 486.5L394.8 486.7L396.8 486.9L398.8 486.7L400.8 487.2L402.8 487.0L404.8 487.3L406.8 487.1L408.8 487.7L410.8 487.2L412.8 487.1L414.8 486.9L416.8 487.4L418.8 487.2L420.8 487.4L422.8 487.3L424.8 487.4L426.8 487.1L428.8 487.2L430.8 487.2L432.8 487.6L434.8 487.9L436.8 488.7L438.8 488.2L440.8 488.0L442.8 487.8L444.8 487.7L446.8 486.7L448.8 487.2L450.8 486.8L452.8 487.0L454.8 487.2L456.8 487.9L458.8 487.8L460.8 488.1L462.8 488.1L464.8 487.7L466.8 488.2L468.8 488.5L470.8 488.3L472.8 488.2L474.8 488.2L476.8 488.2L478.8 488.1L480.8 488.2L482.8 487.8L484.8 488.1L486.8 487.7L488.8 487.8L490.8 487.7L492.8 487.5L494.8 488.3L496.8 488.0L498.8 489.3L500.8 489.6L502.8 489.1L504.8 489.4L506.8 489.5L508.8 489.4L510.8 489.2L512.8 488.5L514.8 488.7L516.8 489.1L518.8 489.0L520.8 488.6L522.8 488.4L524.8 488.9L526.8 488.8L528.8 489.1L530.8 488.9L532.8 488.4L534.8 488.0L536.8 487.7L538.8 487.7L540.8 487.4L542.8 487.3L544.8 487.6L546.8 487.2L548.8 487.0L550.8 486.7L552.8 486.0L554.8 486.7L556.8 486.5L558.8 485.6L560.8 485.6L562.8 485.0L564.8 484.6L566.8 484.4L568.8 484.6L570.8 484.5L572.8 484.8L574.8 484.5L576.8 483.5L578.8 484.0L580.8 483.7L582.8 483.5L584.8 483.7L586.8 483.7L588.8 483.6L590.8 483.8L592.8 483.3L594.8 483.8L596.8 483.9L598.8 483.7L600.8 483.4L602.8 483.1L604.8 483.3L606.8 483.2L608.8 483.8L610.8 483.9L612.8 484.2L614.8 484.4L616.8 484.5L618.8 484.3L620.8 484.5L622.8 484.6L624.8 484.5L626.8 484.3L628.8 484.7L630.8 484.4L632.8 484.1L634.8 484.5L636.8 485.3L638.8 484.7L640.8 485.1L642.8 485.4L644.8 484.8L646.8 484.6L648.8 484.8L650.8 485.0L652.8 484.7L654.8 485.1L656.8 484.6L658.8 484.7L660.8 484.6L662.8 484.3L664.8 484.2L666.8 484.5L668.8 484.7L670.8 484.6L672.8 484.8L674.8 485.0L676.8 484.5L678.8 484.6L680.8 485.1L682.8 485.3L684.8 485.1L686.8 485.0L688.8 485.3L690.8 485.0L692.8 484.8L694.8 484.5L696.8 485.1L698.8 485.0L700.8 485.1L702.8 485.3L704.8 485.3L706.8 485.8L708.8 485.8L710.8 486.3L712.8 485.2L714.8 485.0L716.8 484.7L718.8 485.1L720.8 484.9L722.8 485.3L724.8 485.3L726.8 485.4L728.8 484.8L730.8 485.3L732.8 485.3L734.8 485.6L736.8 485.3L738.8 485.6L740.8 485.6L742.8 485.7L744.8 486.0L746.8 485.9L748.8 485.5L750.8 485.6L752.8 485.7L754.8 485.9L756.8 486.0L758.8 486.3L760.8 486.0L762.8 486.4L764.8 486.0L766.8 486.2L768.8 486.1L770.8 486.3L772.8 486.3L774.8 486.7L776.8 486.0L778.8 486.7L780.8 486.8L782.8 486.9L784.8 487.0L786.8 486.8L788.8 486.2L790.8 486.7L792.8 486.5L794.8 486.8L796.8 487.1L798.8 487.2L800.8 487.2L802.8 487.5L804.8 487.3L806.8 486.9L808.8 486.6L810.8 486.6L812.8 486.7L814.8 486.9L816.8 487.3L818.8 487.0L820.8 487.2L822.8 486.9L824.8 487.5L826.8 487.3L828.8 487.6L830.8 487.9L832.8 488.2L834.8 487.9L836.8 488.2L838.8 488.3L840.8 488.3L842.8 488.0L844.8 487.7L846.8 487.5L848.8 487.9L850.8 487.7L852.8 488.4L854.8 488.6L856.8 488.5L858.8 488.5L860.8 488.4L862.8 489.0L864.8 489.3L866.8 488.8L868.8 488.6L870.8 488.8L872.8 488.9L874.8 489.1L876.8 488.9L878.8 489.2L880.8 489.5L882.8 489.8L884.8 489.9L886.8 489.5L888.8 489.8L890.8 489.8L892.8 489.6L894.8 489.8L896.8 489.9L898.8 490.3L900.8 489.9L902.8 490.1L904.8 490.2L906.8 489.7L908.8 489.9L910.8 490.0L912.8 489.7L914.8 489.6L916.8 490.1L918.8 489.7L920.8 490.0L922.8 489.5L924.8 489.5L926.8 489.2L928.8 489.1L930.8 489.1L932.8 488.9L934.8 488.5L936.8 488.5L938.8 488.5L940.8 487.9L942.8 488.4L944.8 488.1L946.8 487.7L948.8 487.5L950.8 487.7L952.8 488.1L954.8 488.3L956.8 488.5L958.8 489.2L960.8 489.2L962.8 489.2L964.8 488.8L966.8 489.1L968.8 489.0L970.8 489.4L972.8 489.7L974.8 490.3L976.8 489.3L978.8 489.3L980.8 488.6L982.8 488.7L984.8 488.2L986.8 488.4L988.8 487.9L990.8 487.3L992.8 487.2L994.8 487.8L996.8 486.9L998.8 487.7L1000.8 487.4L1002.8 487.9L1004.8 488.5L1006.8 488.7L1008.8 488.8L1010.8 488.5L1012.8 488.2L1014.8 487.4L1016.8 486.5L1018.8 485.6L1020.8 483.9L1022.8 482.7L1024.8 481.5L1026.8 481.4L1028.8 481.6L1030.8 480.9L1032.8 481.4L1034.8 481.2L1036.8 481.4L1038.8 481.2L1040.8 481.2L1042.8 481.1L1044.8 481.6L1046.8 481.8L1048.8 482.0L1050.8 482.6L1052.8 483.0L1054.8 483.4L1056.8 483.8L1058.8 483.7L1060.8 484.6L1062.8 484.2L1064.8 484.7L1066.8 485.2L1068.8 485.1L1070.8 486.0L1072.8 486.3L1074.8 486.2L1076.8 486.3L1078.8 486.2L1080.8 486.4L1082.8 487.3L1084.8 487.4L1086.8 487.9L1088.8 488.0L1090.8 488.7L1092.8 489.0L1094.8 489.6L1096.8 490.7L1098.8 490.8L1100.8 491.2L1102.8 492.0L1104.8 492.2L1106.8 492.6L1108.8 492.5L1110.8 492.8L1112.8 492.9L1114.8 493.5L1116.8 493.2L1118.8 492.7L1120.8 492.6L1122.8 491.3L1124.8 491.5L1126.8 491.7L1128.8 491.1L1130.8 490.7L1132.8 490.6L1134.8 490.2L1136.8 490.1L1138.8 489.7L1140.8 489.7L1142.8 489.2L1144.8 488.8L1146.8 488.6L1148.8 488.9L1150.8 488.2L1152.8 488.6L1154.8 488.4L1156.8 488.7L1158.8 488.6L1160.8 488.8L1162.8 488.8L1164.8 488.3L1166.8 488.8L1168.8 488.6L1170.8 488.6L1172.8 488.5L1174.8 488.5L1176.8 488.7L1178.8 488.0L1180.8 488.4L1182.8 487.6L1184.8 487.5L1186.8 487.8L1188.8 487.7L1190.8 487.8L1192.8 487.7L1193.0 487.5" fill="none" stroke="#8cb563" stroke-width="2.0" stroke-linejoin="round" stroke-linecap="round"/>
<path d="M160.8 497.0L162.8 496.7L164.8 496.5L166.8 497.0L168.8 496.9L170.8 497.1L172.8 497.2L174.8 497.4L176.8 497.0L178.8 497.4L180.8 497.6L182.8 497.6L184.8 497.7L186.8 498.0L188.8 497.7L190.8 498.0L192.8 497.8L194.8 497.7L196.8 497.5L198.8 497.6L200.8 497.7L202.8 497.4L204.8 497.4L206.8 497.8L208.8 497.6L210.8 498.0L212.8 498.3L214.8 498.4L216.8 498.3L218.8 498.2L220.8 497.9L222.8 498.2L224.8 498.6L226.8 499.0L228.8 499.1L230.8 498.8L232.8 498.6L234.8 498.4L236.8 498.3L238.8 498.5L240.8 498.6L242.8 498.4L244.8 498.6L246.8 498.9L248.8 498.8L250.8 499.5L252.8 499.3L254.8 499.4L256.8 499.5L258.8 499.2L260.8 499.0L262.8 499.2L264.8 499.6L266.8 499.8L268.8 499.4L270.8 500.3L272.8 499.9L274.8 499.9L276.8 500.1L278.8 499.9L280.8 500.1L282.8 499.9L284.8 500.1L286.8 500.2L288.8 500.3L290.8 500.1L292.8 499.9L294.8 499.7L296.8 500.0L298.8 500.2L300.8 500.1L302.8 499.7L304.8 499.9L306.8 499.8L308.8 500.1L310.8 500.3L312.8 500.6L314.8 500.5L316.8 500.9L318.8 500.7L320.8 500.6L322.8 500.1L324.8 500.4L326.8 500.4L328.8 500.0L330.8 499.9L332.8 499.9L334.8 500.1L336.8 500.6L338.8 501.0L340.8 500.9L342.8 501.1L344.8 501.4L346.8 501.0L348.8 501.3L350.8 501.3L352.8 501.1L354.8 500.8L356.8 500.9L358.8 500.8L360.8 500.9L362.8 500.6L364.8 501.0L366.8 500.9L368.8 501.4L370.8 501.4L372.8 501.2L374.8 501.2L376.8 501.7L378.8 501.7L380.8 501.8L382.8 501.7L384.8 501.8L386.8 501.8L388.8 501.5L390.8 501.6L392.8 501.4L394.8 501.5L396.8 501.5L398.8 501.5L400.8 501.4L402.8 501.3L404.8 501.2L406.8 501.3L408.8 501.3L410.8 501.4L412.8 501.9L414.8 502.0L416.8 501.7L418.8 501.8L420.8 501.5L422.8 501.6L424.8 501.5L426.8 501.6L428.8 501.7L430.8 502.0L432.8 502.2L434.8 502.3L436.8 502.3L438.8 502.3L440.8 502.1L442.8 501.9L444.8 502.1L446.8 502.0L448.8 502.5L450.8 502.6L452.8 502.3L454.8 502.3L456.8 502.8L458.8 502.6L460.8 502.8L462.8 502.6L464.8 503.3L466.8 503.4L468.8 503.1L470.8 502.8L472.8 503.2L474.8 503.0L476.8 503.1L478.8 503.5L480.8 502.8L482.8 503.0L484.8 502.8L486.8 503.4L488.8 503.4L490.8 503.4L492.8 504.0L494.8 503.7L496.8 503.7L498.8 503.7L500.8 504.1L502.8 504.5L504.8 504.3L506.8 504.2L508.8 504.7L510.8 504.1L512.8 504.0L514.8 503.9L516.8 503.7L518.8 503.8L520.8 503.4L522.8 503.1L524.8 503.6L526.8 503.2L528.8 503.6L530.8 503.3L532.8 503.2L534.8 503.4L536.8 503.3L538.8 503.3L540.8 503.6L542.8 503.0L544.8 502.6L546.8 502.4L548.8 501.9L550.8 501.5L552.8 501.6L554.8 501.6L556.8 501.1L558.8 501.3L560.8 501.3L562.8 500.9L564.8 500.6L566.8 500.4L568.8 500.2L570.8 500.2L572.8 500.2L574.8 499.8L576.8 499.1L578.8 499.3L580.8 499.4L582.8 499.7L584.8 499.7L586.8 499.9L588.8 499.9L590.8 499.5L592.8 499.7L594.8 499.4L596.8 499.0L598.8 499.4L600.8 499.6L602.8 499.4L604.8 499.8L606.8 499.8L608.8 499.5L610.8 499.6L612.8 499.9L614.8 500.0L616.8 499.8L618.8 499.9L620.8 500.0L622.8 500.1L624.8 499.9L626.8 500.3L628.8 500.5L630.8 500.5L632.8 500.8L634.8 500.9L636.8 500.2L638.8 500.3L640.8 499.8L642.8 499.8L644.8 500.1L646.8 500.3L648.8 500.1L650.8 500.1L652.8 500.5L654.8 500.4L656.8 500.2L658.8 499.8L660.8 500.1L662.8 500.1L664.8 500.0L666.8 500.4L668.8 500.9L670.8 500.9L672.8 501.0L674.8 501.1L676.8 501.0L678.8 500.9L680.8 500.8L682.8 500.7L684.8 500.8L686.8 501.1L688.8 501.0L690.8 500.7L692.8 500.8L694.8 501.0L696.8 500.9L698.8 501.4L700.8 501.1L702.8 501.2L704.8 501.4L706.8 500.9L708.8 500.7L710.8 500.8L712.8 500.8L714.8 501.0L716.8 500.9L718.8 500.8L720.8 501.0L722.8 501.1L724.8 501.3L726.8 501.0L728.8 501.1L730.8 501.3L732.8 501.4L734.8 501.6L736.8 501.5L738.8 501.6L740.8 501.5L742.8 501.6L744.8 501.9L746.8 502.1L748.8 502.2L750.8 502.2L752.8 502.0L754.8 502.6L756.8 502.9L758.8 502.2L760.8 501.9L762.8 501.9L764.8 502.0L766.8 501.6L768.8 501.7L770.8 501.6L772.8 501.9L774.8 501.8L776.8 501.9L778.8 501.6L780.8 501.9L782.8 502.2L784.8 502.7L786.8 502.4L788.8 502.2L790.8 501.7L792.8 501.8L794.8 501.6L796.8 501.8L798.8 501.9L800.8 502.0L802.8 502.0L804.8 501.9L806.8 502.1L808.8 501.8L810.8 502.2L812.8 502.0L814.8 502.2L816.8 502.2L818.8 502.1L820.8 502.5L822.8 502.5L824.8 503.1L826.8 503.2L828.8 503.2L830.8 503.0L832.8 503.2L834.8 502.9L836.8 503.2L838.8 502.4L840.8 502.9L842.8 502.8L844.8 503.2L846.8 503.6L848.8 504.0L850.8 504.2L852.8 504.4L854.8 504.2L856.8 504.3L858.8 504.4L860.8 504.7L862.8 504.4L864.8 504.4L866.8 504.1L868.8 504.3L870.8 504.8L872.8 505.0L874.8 505.1L876.8 505.1L878.8 505.1L880.8 505.7L882.8 505.5L884.8 505.8L886.8 505.4L888.8 505.9L890.8 506.0L892.8 506.3L894.8 506.2L896.8 506.1L898.8 506.4L900.8 506.8L902.8 506.3L904.8 506.4L906.8 506.2L908.8 506.3L910.8 505.8L912.8 505.8L914.8 505.6L916.8 505.7L918.8 505.8L920.8 505.0L922.8 505.2L924.8 504.8L926.8 504.8L928.8 504.9L930.8 504.7L932.8 504.3L934.8 503.3L936.8 503.1L938.8 503.0L940.8 503.0L942.8 503.1L944.8 503.2L946.8 503.2L948.8 503.2L950.8 503.6L952.8 503.2L954.8 503.4L956.8 503.4L958.8 503.8L960.8 504.3L962.8 504.3L964.8 505.0L966.8 505.4L968.8 505.7L970.8 505.8L972.8 505.5L974.8 505.2L976.8 505.2L978.8 505.2L980.8 504.9L982.8 504.7L984.8 504.6L986.8 504.5L988.8 504.1L990.8 503.6L992.8 503.6L994.8 502.6L996.8 502.8L998.8 502.6L1000.8 502.7L1002.8 502.8L1004.8 503.1L1006.8 503.1L1008.8 503.2L1010.8 502.1L1012.8 501.7L1014.8 501.1L1016.8 500.2L1018.8 498.7L1020.8 497.7L1022.8 495.8L1024.8 494.9L1026.8 494.6L1028.8 494.4L1030.8 494.6L1032.8 494.6L1034.8 494.4L1036.8 494.1L1038.8 493.8L1040.8 494.1L1042.8 494.5L1044.8 494.7L1046.8 494.8L1048.8 495.0L1050.8 495.5L1052.8 496.4L1054.8 496.7L1056.8 497.4L1058.8 497.8L1060.8 497.6L1062.8 497.5L1064.8 498.2L1066.8 498.6L1068.8 499.0L1070.8 499.2L1072.8 500.0L1074.8 500.8L1076.8 500.6L1078.8 501.1L1080.8 501.1L1082.8 501.6L1084.8 501.8L1086.8 502.4L1088.8 503.6L1090.8 504.4L1092.8 505.1L1094.8 505.5L1096.8 506.5L1098.8 507.3L1100.8 507.7L1102.8 508.5L1104.8 509.0L1106.8 509.8L1108.8 509.9L1110.8 510.4L1112.8 510.8L1114.8 510.9L1116.8 510.7L1118.8 510.7L1120.8 510.7L1122.8 509.6L1124.8 509.5L1126.8 508.6L1128.8 508.2L1130.8 507.9L1132.8 507.6L1134.8 506.7L1136.8 506.3L1138.8 506.1L1140.8 505.2L1142.8 505.0L1144.8 504.7L1146.8 503.6L1148.8 503.6L1150.8 503.0L1152.8 503.0L1154.8 503.2L1156.8 503.5L1158.8 503.1L1160.8 503.3L1162.8 502.9L1164.8 502.9L1166.8 503.0L1168.8 503.3L1170.8 503.0L1172.8 503.2L1174.8 502.9L1176.8 502.9L1178.8 503.0L1180.8 502.7L1182.8 502.5L1184.8 502.7L1186.8 502.6L1188.8 502.3L1190.8 502.7L1192.8 502.2L1193.0 502.3" fill="none" stroke="#80c2eb" stroke-width="2.0" stroke-linejoin="round" stroke-linecap="round"/>
<path d="M160.8 526.2L162.8 526.4L164.8 526.7L166.8 526.2L168.8 526.4L170.8 526.2L172.8 526.2L174.8 525.8L176.8 526.7L178.8 526.5L180.8 527.1L182.8 527.2L184.8 527.2L186.8 527.3L188.8 526.4L190.8 526.6L192.8 526.6L194.8 526.8L196.8 527.2L198.8 527.4L200.8 527.6L202.8 527.4L204.8 527.5L206.8 527.3L208.8 527.4L210.8 527.8L212.8 527.9L214.8 527.9L216.8 528.1L218.8 528.0L220.8 528.4L222.8 528.3L224.8 528.3L226.8 528.5L228.8 528.3L230.8 528.3L232.8 528.4L234.8 528.0L236.8 528.3L238.8 528.4L240.8 528.3L242.8 528.6L244.8 528.7L246.8 528.9L248.8 529.0L250.8 528.7L252.8 528.4L254.8 528.7L256.8 528.7L258.8 529.2L260.8 529.1L262.8 529.1L264.8 529.4L266.8 528.8L268.8 528.7L270.8 528.7L272.8 529.0L274.8 529.8L276.8 530.0L278.8 530.1L280.8 530.1L282.8 529.9L284.8 529.3L286.8 529.6L288.8 529.9L290.8 530.0L292.8 529.9L294.8 530.1L296.8 530.3L298.8 530.1L300.8 530.2L302.8 529.8L304.8 530.1L306.8 530.2L308.8 530.1L310.8 530.1L312.8 530.4L314.8 530.3L316.8 530.6L318.8 530.5L320.8 530.4L322.8 530.7L324.8 530.5L326.8 530.1L328.8 530.0L330.8 530.5L332.8 530.7L334.8 530.4L336.8 530.6L338.8 530.6L340.8 531.4L342.8 530.9L344.8 531.3L346.8 531.4L348.8 531.6L350.8 531.6L352.8 531.0L354.8 530.7L356.8 531.3L358.8 531.1L360.8 531.3L362.8 531.8L364.8 531.2L366.8 532.0L368.8 531.7L370.8 531.8L372.8 531.5L374.8 531.6L376.8 532.0L378.8 532.5L380.8 532.5L382.8 532.5L384.8 532.4L386.8 532.1L388.8 532.0L390.8 532.4L392.8 532.3L394.8 532.2L396.8 532.8L398.8 533.0L400.8 533.3L402.8 533.5L404.8 533.0L406.8 532.8L408.8 532.8L410.8 532.9L412.8 533.0L414.8 533.5L416.8 533.7L418.8 533.7L420.8 534.4L422.8 533.8L424.8 534.2L426.8 534.3L428.8 534.7L430.8 534.0L432.8 534.0L434.8 534.4L436.8 534.2L438.8 534.3L440.8 533.9L442.8 534.7L444.8 534.5L446.8 534.9L448.8 535.0L450.8 534.6L452.8 534.6L454.8 534.7L456.8 534.3L458.8 535.1L460.8 535.3L462.8 535.3L464.8 535.5L466.8 535.3L468.8 535.0L470.8 535.2L472.8 535.0L474.8 535.3L476.8 535.4L478.8 535.4L480.8 535.4L482.8 535.5L484.8 535.5L486.8 535.6L488.8 535.5L490.8 535.6L492.8 535.9L494.8 536.2L496.8 536.5L498.8 536.2L500.8 535.8L502.8 536.3L504.8 536.3L506.8 536.5L508.8 536.8L510.8 536.9L512.8 537.1L514.8 537.0L516.8 536.7L518.8 536.5L520.8 536.5L522.8 536.9L524.8 536.4L526.8 536.9L528.8 536.3L530.8 536.0L532.8 536.1L534.8 535.8L536.8 535.5L538.8 534.8L540.8 534.8L542.8 534.2L544.8 533.8L546.8 533.5L548.8 532.8L550.8 532.3L552.8 532.2L554.8 531.5L556.8 531.0L558.8 531.1L560.8 530.4L562.8 530.5L564.8 530.1L566.8 529.9L568.8 529.3L570.8 529.7L572.8 529.5L574.8 529.4L576.8 529.7L578.8 529.3L580.8 529.2L582.8 529.3L584.8 529.4L586.8 529.4L588.8 529.6L590.8 529.2L592.8 529.5L594.8 529.2L596.8 528.9L598.8 529.1L600.8 529.3L602.8 529.9L604.8 529.6L606.8 529.9L608.8 529.8L610.8 530.3L612.8 530.2L614.8 530.0L616.8 529.9L618.8 529.8L620.8 529.9L622.8 530.0L624.8 530.2L626.8 530.4L628.8 530.0L630.8 529.8L632.8 530.0L634.8 530.5L636.8 530.9L638.8 531.0L640.8 531.0L642.8 530.7L644.8 530.9L646.8 530.9L648.8 530.9L650.8 530.8L652.8 530.8L654.8 530.8L656.8 530.5L658.8 530.6L660.8 530.4L662.8 530.1L664.8 529.9L666.8 530.3L668.8 530.8L670.8 531.3L672.8 531.5L674.8 531.5L676.8 531.7L678.8 531.6L680.8 531.4L682.8 531.6L684.8 531.5L686.8 531.4L688.8 531.4L690.8 531.1L692.8 531.1L694.8 531.4L696.8 531.0L698.8 530.9L700.8 531.4L702.8 531.2L704.8 531.2L706.8 531.6L708.8 531.6L710.8 531.4L712.8 531.7L714.8 531.8L716.8 531.9L718.8 532.1L720.8 532.2L722.8 531.7L724.8 531.9L726.8 531.7L728.8 532.0L730.8 531.6L732.8 531.9L734.8 532.1L736.8 532.2L738.8 532.3L740.8 532.5L742.8 532.4L744.8 532.7L746.8 532.7L748.8 532.8L750.8 533.1L752.8 532.9L754.8 532.6L756.8 532.7L758.8 532.5L760.8 532.2L762.8 532.4L764.8 531.9L766.8 531.9L768.8 531.6L770.8 532.0L772.8 532.3L774.8 532.1L776.8 532.5L778.8 532.8L780.8 533.4L782.8 532.8L784.8 533.5L786.8 533.3L788.8 532.9L790.8 533.1L792.8 532.4L794.8 532.9L796.8 532.5L798.8 533.1L800.8 533.4L802.8 533.1L804.8 533.4L806.8 533.0L808.8 533.3L810.8 533.2L812.8 533.2L814.8 533.0L816.8 533.4L818.8 533.9L820.8 533.9L822.8 533.9L824.8 534.0L826.8 534.0L828.8 534.0L830.8 534.3L832.8 534.1L834.8 534.4L836.8 534.4L838.8 534.7L840.8 535.1L842.8 535.6L844.8 535.7L846.8 535.8L848.8 535.4L850.8 535.4L852.8 535.4L854.8 535.7L856.8 536.1L858.8 535.9L860.8 536.0L862.8 535.8L864.8 536.3L866.8 536.2L868.8 536.7L870.8 536.6L872.8 537.5L874.8 537.6L876.8 537.5L878.8 537.6L880.8 537.3L882.8 537.6L884.8 537.6L886.8 537.6L888.8 537.6L890.8 538.0L892.8 538.2L894.8 538.2L896.8 538.5L898.8 538.9L900.8 538.4L902.8 538.4L904.8 538.5L906.8 537.9L908.8 538.1L910.8 538.1L912.8 537.9L914.8 538.2L916.8 538.2L918.8 538.4L920.8 538.3L922.8 538.4L924.8 538.4L926.8 538.6L928.8 538.4L930.8 537.9L932.8 537.6L934.8 537.1L936.8 536.3L938.8 535.9L940.8 535.3L942.8 535.0L944.8 534.8L946.8 534.6L948.8 534.7L950.8 534.9L952.8 535.2L954.8 536.1L956.8 536.1L958.8 536.0L960.8 536.4L962.8 536.4L964.8 536.7L966.8 537.1L968.8 536.5L970.8 537.1L972.8 537.3L974.8 537.5L976.8 537.1L978.8 536.4L980.8 536.5L982.8 536.1L984.8 536.0L986.8 536.0L988.8 535.2L990.8 535.1L992.8 534.6L994.8 534.3L996.8 534.2L998.8 534.2L1000.8 533.8L1002.8 534.5L1004.8 535.0L1006.8 535.1L1008.8 535.5L1010.8 534.6L1012.8 533.7L1014.8 532.6L1016.8 531.7L1018.8 530.1L1020.8 527.9L1022.8 526.2L1024.8 524.7L1026.8 524.5L1028.8 524.2L1030.8 524.0L1032.8 523.1L1034.8 523.1L1036.8 522.9L1038.8 522.7L1040.8 523.1L1042.8 523.6L1044.8 523.9L1046.8 524.4L1048.8 524.7L1050.8 524.9L1052.8 525.6L1054.8 525.7L1056.8 526.1L1058.8 526.7L1060.8 527.7L1062.8 528.4L1064.8 529.0L1066.8 529.3L1068.8 529.6L1070.8 529.8L1072.8 530.0L1074.8 530.6L1076.8 531.1L1078.8 532.1L1080.8 532.9L1082.8 533.4L1084.8 534.1L1086.8 534.6L1088.8 535.3L1090.8 536.5L1092.8 537.2L1094.8 537.8L1096.8 539.3L1098.8 540.3L1100.8 541.7L1102.8 542.3L1104.8 543.5L1106.8 544.3L1108.8 544.7L1110.8 545.5L1112.8 545.7L1114.8 545.9L1116.8 546.4L1118.8 546.2L1120.8 545.4L1122.8 544.6L1124.8 543.4L1126.8 542.5L1128.8 541.7L1130.8 541.3L1132.8 540.8L1134.8 540.1L1136.8 539.6L1138.8 539.1L1140.8 538.3L1142.8 537.9L1144.8 537.3L1146.8 537.1L1148.8 536.8L1150.8 536.2L1152.8 535.7L1154.8 535.9L1156.8 536.0L1158.8 535.4L1160.8 535.4L1162.8 535.1L1164.8 535.0L1166.8 534.5L1168.8 534.3L1170.8 534.9L1172.8 534.9L1174.8 534.2L1176.8 534.2L1178.8 534.1L1180.8 533.9L1182.8 533.4L1184.8 533.5L1186.8 533.5L1188.8 533.9L1190.8 534.4L1192.8 534.3L1193.0 533.8" fill="none" stroke="#4a8dc6" stroke-width="2.0" stroke-linejoin="round" stroke-linecap="round"/>
<path d="M160.8 538.0L162.8 538.0L164.8 537.8L166.8 538.0L168.8 537.8L170.8 538.6L172.8 538.4L174.8 538.5L176.8 538.6L178.8 538.5L180.8 538.7L182.8 539.0L184.8 538.9L186.8 539.0L188.8 539.2L190.8 539.4L192.8 539.3L194.8 539.6L196.8 539.4L198.8 539.2L200.8 539.4L202.8 539.3L204.8 539.0L206.8 539.1L208.8 539.5L210.8 539.6L212.8 539.5L214.8 539.7L216.8 539.7L218.8 540.1L220.8 539.8L222.8 540.3L224.8 540.3L226.8 540.2L228.8 540.1L230.8 540.3L232.8 540.5L234.8 539.9L236.8 540.4L238.8 540.5L240.8 540.8L242.8 540.6L244.8 540.9L246.8 540.9L248.8 540.4L250.8 541.1L252.8 541.1L254.8 541.4L256.8 541.3L258.8 541.4L260.8 541.5L262.8 541.7L264.8 541.7L266.8 541.8L268.8 541.9L270.8 542.0L272.8 542.0L274.8 542.0L276.8 542.0L278.8 542.5L280.8 542.4L282.8 542.2L284.8 542.2L286.8 541.9L288.8 542.6L290.8 542.5L292.8 542.0L294.8 542.0L296.8 542.0L298.8 542.0L300.8 542.2L302.8 542.4L304.8 542.4L306.8 542.5L308.8 542.3L310.8 542.6L312.8 542.7L314.8 542.9L316.8 542.8L318.8 543.2L320.8 543.8L322.8 543.6L324.8 543.8L326.8 544.1L328.8 543.8L330.8 543.7L332.8 543.9L334.8 544.0L336.8 544.0L338.8 543.9L340.8 544.3L342.8 544.0L344.8 543.9L346.8 544.1L348.8 543.8L350.8 544.3L352.8 544.6L354.8 544.5L356.8 544.2L358.8 543.9L360.8 544.2L362.8 544.3L364.8 544.6L366.8 544.5L368.8 544.9L370.8 545.0L372.8 545.3L374.8 545.4L376.8 545.0L378.8 545.3L380.8 545.6L382.8 545.8L384.8 545.6L386.8 545.8L388.8 545.6L390.8 545.8L392.8 545.4L394.8 545.4L396.8 546.0L398.8 546.2L400.8 546.2L402.8 546.0L404.8 545.9L406.8 546.1L408.8 546.3L410.8 545.9L412.8 546.4L414.8 546.3L416.8 546.6L418.8 546.5L420.8 546.8L422.8 546.9L424.8 547.0L426.8 547.1L428.8 547.3L430.8 547.0L432.8 547.2L434.8 547.3L436.8 547.7L438.8 547.6L440.8 547.9L442.8 547.4L444.8 547.2L446.8 547.3L448.8 547.6L450.8 547.4L452.8 547.8L454.8 548.2L456.8 548.2L458.8 548.2L460.8 547.6L462.8 547.9L464.8 547.9L466.8 548.6L468.8 549.0L470.8 548.7L472.8 548.8L474.8 548.5L476.8 548.4L478.8 548.9L480.8 548.8L482.8 549.2L484.8 548.9L486.8 548.7L488.8 548.3L490.8 548.1L492.8 548.8L494.8 549.3L496.8 550.0L498.8 550.3L500.8 550.7L502.8 550.0L504.8 549.9L506.8 549.5L508.8 549.4L510.8 549.7L512.8 549.9L514.8 549.9L516.8 549.6L518.8 549.5L520.8 549.9L522.8 549.6L524.8 549.8L526.8 550.0L528.8 549.7L530.8 549.4L532.8 549.6L534.8 549.4L536.8 549.1L538.8 549.2L540.8 549.1L542.8 548.6L544.8 548.1L546.8 546.9L548.8 546.4L550.8 545.4L552.8 544.9L554.8 544.4L556.8 543.9L558.8 543.7L560.8 543.4L562.8 543.3L564.8 543.5L566.8 543.1L568.8 542.9L570.8 542.7L572.8 542.4L574.8 542.3L576.8 542.0L578.8 541.6L580.8 542.0L582.8 541.7L584.8 542.1L586.8 542.0L588.8 541.9L590.8 542.1L592.8 542.1L594.8 542.4L596.8 542.5L598.8 542.3L600.8 542.6L602.8 542.4L604.8 542.1L606.8 541.8L608.8 541.7L610.8 541.3L612.8 541.9L614.8 541.8L616.8 542.3L618.8 542.2L620.8 542.0L622.8 542.3L624.8 542.4L626.8 542.3L628.8 542.9L630.8 543.1L632.8 543.2L634.8 543.0L636.8 543.2L638.8 543.5L640.8 542.8L642.8 543.2L644.8 543.1L646.8 543.2L648.8 543.1L650.8 543.4L652.8 543.1L654.8 543.6L656.8 542.9L658.8 542.9L660.8 542.9L662.8 542.8L664.8 542.6L666.8 543.1L668.8 543.1L670.8 543.1L672.8 543.5L674.8 543.9L676.8 543.9L678.8 544.0L680.8 544.0L682.8 543.5L684.8 543.6L686.8 543.3L688.8 543.9L690.8 543.5L692.8 543.8L694.8 544.1L696.8 544.0L698.8 544.3L700.8 544.1L702.8 544.1L704.8 543.9L706.8 544.0L708.8 544.0L710.8 544.2L712.8 544.2L714.8 544.1L716.8 544.3L718.8 544.2L720.8 544.5L722.8 545.0L724.8 545.0L726.8 545.0L728.8 545.0L730.8 544.9L732.8 544.7L734.8 544.9L736.8 545.2L738.8 545.6L740.8 545.4L742.8 545.3L744.8 545.3L746.8 544.8L748.8 545.2L750.8 545.2L752.8 545.1L754.8 545.5L756.8 545.3L758.8 544.9L760.8 545.3L762.8 545.5L764.8 545.5L766.8 545.3L768.8 545.8L770.8 545.7L772.8 545.9L774.8 546.0L776.8 546.1L778.8 546.3L780.8 546.2L782.8 546.8L784.8 546.9L786.8 546.8L788.8 547.1L790.8 546.3L792.8 546.2L794.8 546.0L796.8 545.7L798.8 546.1L800.8 546.2L802.8 546.3L804.8 546.1L806.8 546.0L808.8 546.0L810.8 546.2L812.8 546.2L814.8 546.6L816.8 546.7L818.8 547.0L820.8 547.2L822.8 547.6L824.8 547.2L826.8 547.1L828.8 547.6L830.8 547.7L832.8 547.7L834.8 547.8L836.8 548.3L838.8 548.4L840.8 548.4L842.8 548.6L844.8 548.3L846.8 548.3L848.8 548.1L850.8 548.4L852.8 548.4L854.8 549.1L856.8 549.5L858.8 549.4L860.8 549.3L862.8 549.7L864.8 550.0L866.8 550.1L868.8 550.2L870.8 550.8L872.8 550.7L874.8 550.8L876.8 551.2L878.8 551.7L880.8 551.5L882.8 551.1L884.8 551.3L886.8 551.4L888.8 551.5L890.8 552.2L892.8 552.2L894.8 552.4L896.8 553.0L898.8 552.7L900.8 552.9L902.8 552.4L904.8 552.7L906.8 552.7L908.8 552.9L910.8 552.2L912.8 552.4L914.8 553.1L916.8 552.6L918.8 552.5L920.8 552.2L922.8 551.8L924.8 551.7L926.8 551.5L928.8 551.4L930.8 550.8L932.8 551.1L934.8 550.2L936.8 550.1L938.8 549.8L940.8 549.6L942.8 549.2L944.8 549.1L946.8 549.2L948.8 548.8L950.8 549.3L952.8 549.3L954.8 550.2L956.8 550.6L958.8 550.1L960.8 550.0L962.8 550.7L964.8 550.4L966.8 550.8L968.8 550.1L970.8 550.1L972.8 550.3L974.8 550.0L976.8 550.3L978.8 550.1L980.8 550.4L982.8 549.5L984.8 549.4L986.8 549.0L988.8 548.6L990.8 548.1L992.8 548.0L994.8 547.6L996.8 547.9L998.8 547.7L1000.8 547.5L1002.8 547.9L1004.8 548.3L1006.8 549.1L1008.8 548.6L1010.8 548.1L1012.8 547.8L1014.8 547.0L1016.8 545.8L1018.8 543.5L1020.8 541.2L1022.8 539.0L1024.8 537.3L1026.8 536.1L1028.8 535.5L1030.8 535.0L1032.8 534.8L1034.8 534.5L1036.8 534.4L1038.8 534.5L1040.8 535.0L1042.8 535.0L1044.8 535.8L1046.8 535.6L1048.8 535.8L1050.8 536.0L1052.8 536.7L1054.8 536.9L1056.8 537.9L1058.8 538.4L1060.8 539.0L1062.8 540.2L1064.8 541.1L1066.8 541.4L1068.8 541.6L1070.8 542.6L1072.8 542.7L1074.8 542.9L1076.8 543.4L1078.8 543.7L1080.8 544.5L1082.8 545.3L1084.8 546.4L1086.8 547.5L1088.8 548.6L1090.8 550.0L1092.8 551.1L1094.8 552.3L1096.8 553.7L1098.8 554.3L1100.8 555.5L1102.8 556.2L1104.8 556.7L1106.8 557.7L1108.8 558.1L1110.8 558.9L1112.8 559.3L1114.8 559.8L1116.8 559.9L1118.8 559.5L1120.8 559.4L1122.8 558.1L1124.8 557.3L1126.8 556.7L1128.8 556.1L1130.8 555.7L1132.8 554.7L1134.8 554.1L1136.8 553.4L1138.8 553.3L1140.8 552.2L1142.8 551.8L1144.8 550.9L1146.8 551.0L1148.8 550.0L1150.8 549.7L1152.8 548.8L1154.8 549.0L1156.8 549.0L1158.8 549.3L1160.8 548.7L1162.8 549.1L1164.8 548.7L1166.8 548.5L1168.8 548.6L1170.8 548.2L1172.8 548.2L1174.8 548.1L1176.8 547.8L1178.8 547.5L1180.8 546.7L1182.8 547.0L1184.8 547.0L1186.8 547.1L1188.8 546.8L1190.8 546.7L1192.8 546.7L1193.0 546.6" fill="none" stroke="#d87c5c" stroke-width="2.0" stroke-linejoin="round" stroke-linecap="round"/>
<path d="M160.8 546.2L162.8 546.5L164.8 546.5L166.8 546.5L168.8 546.5L170.8 545.8L172.8 546.0L174.8 546.3L176.8 546.9L178.8 547.2L180.8 547.2L182.8 547.4L184.8 547.3L186.8 547.3L188.8 547.4L190.8 547.3L192.8 547.2L194.8 547.4L196.8 547.7L198.8 548.2L200.8 548.3L202.8 548.4L204.8 548.4L206.8 548.1L208.8 547.8L210.8 547.9L212.8 547.9L214.8 548.1L216.8 548.5L218.8 548.6L220.8 549.2L222.8 549.5L224.8 549.1L226.8 549.1L228.8 549.1L230.8 548.8L232.8 549.2L234.8 549.7L236.8 550.1L238.8 550.1L240.8 550.0L242.8 549.7L244.8 549.9L246.8 550.1L248.8 550.4L250.8 550.3L252.8 550.5L254.8 550.2L256.8 550.7L258.8 550.1L260.8 550.4L262.8 550.4L264.8 550.3L266.8 550.0L268.8 550.1L270.8 550.1L272.8 550.2L274.8 550.4L276.8 550.6L278.8 551.0L280.8 550.9L282.8 551.4L284.8 551.2L286.8 551.9L288.8 551.8L290.8 551.8L292.8 551.9L294.8 551.7L296.8 551.7L298.8 551.9L300.8 551.3L302.8 551.5L304.8 552.1L306.8 551.6L308.8 552.2L310.8 552.2L312.8 552.3L314.8 553.0L316.8 552.6L318.8 552.1L320.8 552.5L322.8 552.5L324.8 552.5L326.8 552.6L328.8 552.5L330.8 553.1L332.8 552.8L334.8 553.2L336.8 553.1L338.8 553.4L340.8 553.5L342.8 553.8L344.8 553.8L346.8 553.9L348.8 553.4L350.8 553.2L352.8 553.1L354.8 553.2L356.8 553.7L358.8 553.6L360.8 553.2L362.8 553.5L364.8 553.5L366.8 553.3L368.8 553.3L370.8 554.1L372.8 553.8L374.8 554.2L376.8 554.1L378.8 554.5L380.8 554.3L382.8 554.7L384.8 555.0L386.8 555.3L388.8 555.3L390.8 555.5L392.8 555.3L394.8 554.7L396.8 554.9L398.8 555.1L400.8 555.0L402.8 555.3L404.8 555.3L406.8 555.4L408.8 555.7L410.8 555.7L412.8 555.5L414.8 555.4L416.8 555.1L418.8 555.3L420.8 555.4L422.8 555.8L424.8 555.6L426.8 555.9L428.8 556.3L430.8 556.3L432.8 556.4L434.8 556.0L436.8 555.9L438.8 556.0L440.8 556.4L442.8 556.1L444.8 556.3L446.8 556.8L448.8 557.1L450.8 556.8L452.8 557.0L454.8 557.0L456.8 557.1L458.8 557.2L460.8 557.5L462.8 557.4L464.8 557.5L466.8 557.1L468.8 557.0L470.8 557.1L472.8 556.8L474.8 557.6L476.8 557.9L478.8 558.0L480.8 558.0L482.8 558.1L484.8 557.2L486.8 557.6L488.8 557.6L490.8 558.0L492.8 557.9L494.8 558.1L496.8 558.2L498.8 557.7L500.8 558.1L502.8 558.3L504.8 558.1L506.8 558.7L508.8 558.7L510.8 558.7L512.8 558.4L514.8 558.0L516.8 558.2L518.8 558.1L520.8 558.7L522.8 559.0L524.8 558.8L526.8 558.6L528.8 558.4L530.8 558.1L532.8 558.2L534.8 557.9L536.8 558.5L538.8 558.1L540.8 557.8L542.8 557.0L544.8 556.7L546.8 555.9L548.8 554.9L550.8 554.2L552.8 553.3L554.8 553.2L556.8 552.5L558.8 552.5L560.8 552.5L562.8 552.0L564.8 551.6L566.8 551.4L568.8 551.1L570.8 551.0L572.8 550.8L574.8 550.7L576.8 550.7L578.8 550.8L580.8 550.9L582.8 550.8L584.8 550.4L586.8 550.5L588.8 550.2L590.8 550.2L592.8 549.9L594.8 550.2L596.8 550.1L598.8 550.7L600.8 550.8L602.8 550.7L604.8 550.5L606.8 550.5L608.8 551.1L610.8 550.7L612.8 550.8L614.8 551.0L616.8 550.8L618.8 550.8L620.8 550.6L622.8 550.5L624.8 550.5L626.8 550.2L628.8 550.8L630.8 550.2L632.8 550.4L634.8 550.7L636.8 551.3L638.8 551.0L640.8 551.2L642.8 551.0L644.8 551.2L646.8 551.7L648.8 551.4L650.8 552.0L652.8 551.5L654.8 551.8L656.8 551.5L658.8 551.2L660.8 551.4L662.8 551.8L664.8 551.9L666.8 552.0L668.8 552.4L670.8 551.9L672.8 552.1L674.8 552.1L676.8 551.7L678.8 551.9L680.8 552.3L682.8 552.1L684.8 551.9L686.8 552.6L688.8 552.3L690.8 552.7L692.8 553.2L694.8 552.9L696.8 553.2L698.8 553.1L700.8 553.2L702.8 553.0L704.8 553.2L706.8 552.8L708.8 552.7L710.8 553.5L712.8 553.4L714.8 553.2L716.8 553.1L718.8 553.6L720.8 553.1L722.8 553.1L724.8 552.7L726.8 553.4L728.8 552.6L730.8 553.1L732.8 553.4L734.8 553.2L736.8 553.7L738.8 553.7L740.8 553.5L742.8 553.1L744.8 553.2L746.8 553.0L748.8 552.9L750.8 553.5L752.8 553.3L754.8 553.8L756.8 553.9L758.8 554.1L760.8 553.8L762.8 554.2L764.8 554.1L766.8 554.0L768.8 554.4L770.8 554.4L772.8 554.2L774.8 554.3L776.8 554.2L778.8 554.2L780.8 554.5L782.8 554.3L784.8 554.2L786.8 554.3L788.8 554.5L790.8 554.5L792.8 554.4L794.8 555.1L796.8 555.3L798.8 555.6L800.8 555.3L802.8 555.6L804.8 555.4L806.8 555.4L808.8 555.2L810.8 555.2L812.8 555.2L814.8 555.4L816.8 556.0L818.8 556.3L820.8 556.4L822.8 556.1L824.8 556.4L826.8 556.7L828.8 557.0L830.8 557.1L832.8 557.6L834.8 557.6L836.8 557.9L838.8 557.7L840.8 558.2L842.8 558.2L844.8 557.9L846.8 558.5L848.8 558.3L850.8 558.8L852.8 558.9L854.8 559.0L856.8 559.4L858.8 559.6L860.8 559.7L862.8 560.0L864.8 560.6L866.8 560.8L868.8 560.8L870.8 560.7L872.8 560.5L874.8 560.2L876.8 560.3L878.8 560.3L880.8 560.6L882.8 561.1L884.8 561.2L886.8 561.5L888.8 561.6L890.8 561.4L892.8 561.5L894.8 562.0L896.8 562.1L898.8 562.3L900.8 562.2L902.8 562.4L904.8 562.2L906.8 562.1L908.8 561.7L910.8 562.0L912.8 561.5L914.8 561.3L916.8 561.9L918.8 561.7L920.8 561.8L922.8 561.7L924.8 561.7L926.8 560.8L928.8 561.1L930.8 560.9L932.8 559.9L934.8 559.8L936.8 559.6L938.8 559.1L940.8 558.9L942.8 558.7L944.8 558.6L946.8 558.7L948.8 558.9L950.8 558.9L952.8 559.1L954.8 559.5L956.8 560.1L958.8 560.3L960.8 560.7L962.8 560.7L964.8 561.1L966.8 560.7L968.8 560.9L970.8 560.6L972.8 560.8L974.8 560.5L976.8 560.5L978.8 560.0L980.8 559.9L982.8 559.5L984.8 559.0L986.8 558.5L988.8 559.1L990.8 558.4L992.8 557.9L994.8 557.7L996.8 557.3L998.8 557.6L1000.8 557.3L1002.8 558.0L1004.8 558.5L1006.8 558.8L1008.8 558.7L1010.8 557.8L1012.8 556.5L1014.8 555.3L1016.8 553.8L1018.8 552.0L1020.8 549.6L1022.8 547.6L1024.8 545.8L1026.8 545.1L1028.8 544.5L1030.8 543.8L1032.8 542.7L1034.8 542.9L1036.8 542.7L1038.8 543.3L1040.8 543.2L1042.8 543.7L1044.8 544.0L1046.8 544.0L1048.8 544.7L1050.8 545.3L1052.8 545.7L1054.8 546.2L1056.8 546.6L1058.8 547.3L1060.8 548.0L1062.8 548.7L1064.8 549.0L1066.8 549.3L1068.8 549.3L1070.8 550.0L1072.8 550.9L1074.8 551.8L1076.8 552.5L1078.8 553.4L1080.8 554.1L1082.8 555.1L1084.8 556.3L1086.8 557.5L1088.8 559.4L1090.8 560.6L1092.8 562.2L1094.8 563.1L1096.8 563.9L1098.8 564.7L1100.8 565.4L1102.8 566.6L1104.8 567.1L1106.8 568.2L1108.8 568.7L1110.8 569.2L1112.8 569.8L1114.8 569.4L1116.8 569.8L1118.8 569.3L1120.8 568.9L1122.8 567.8L1124.8 566.9L1126.8 566.1L1128.8 565.5L1130.8 564.7L1132.8 564.0L1134.8 564.2L1136.8 563.5L1138.8 563.3L1140.8 562.6L1142.8 561.5L1144.8 560.9L1146.8 560.9L1148.8 560.2L1150.8 559.7L1152.8 559.3L1154.8 558.7L1156.8 558.6L1158.8 557.8L1160.8 557.9L1162.8 558.1L1164.8 558.1L1166.8 558.3L1168.8 557.8L1170.8 557.8L1172.8 557.2L1174.8 557.3L1176.8 556.7L1178.8 557.0L1180.8 556.4L1182.8 556.7L1184.8 556.5L1186.8 556.5L1188.8 556.5L1190.8 556.3L1192.8 556.2L1193.0 556.0" fill="none" stroke="#e8c062" stroke-width="2.0" stroke-linejoin="round" stroke-linecap="round"/>
<path d="M160.8 853.8L162.8 854.2L164.8 853.8L166.8 853.6L168.8 853.7L170.8 853.9L172.8 852.9L174.8 852.9L176.8 853.2L178.8 853.7L180.8 853.5L182.8 854.2L184.8 853.4L186.8 853.3L188.8 853.2L190.8 853.5L192.8 853.4L194.8 853.2L196.8 853.6L198.8 854.1L200.8 854.5L202.8 854.4L204.8 854.0L206.8 854.4L208.8 854.6L210.8 853.3L212.8 853.5L214.8 853.5L216.8 853.8L218.8 854.5L220.8 853.9L222.8 853.7L224.8 853.6L226.8 853.6L228.8 853.9L230.8 853.4L232.8 853.1L234.8 853.2L236.8 852.8L238.8 852.7L240.8 853.2L242.8 853.6L244.8 853.0L246.8 852.9L248.8 852.8L250.8 853.9L252.8 853.3L254.8 854.3L256.8 853.7L258.8 854.1L260.8 853.5L262.8 853.9L264.8 854.1L266.8 854.1L268.8 853.9L270.8 854.0L272.8 854.5L274.8 854.7L276.8 854.1L278.8 854.9L280.8 853.4L282.8 853.7L284.8 853.5L286.8 853.7L288.8 853.5L290.8 853.0L292.8 852.5L294.8 852.5L296.8 852.6L298.8 852.2L300.8 852.0L302.8 853.1L304.8 853.8L306.8 854.3L308.8 854.2L310.8 853.7L312.8 852.7L314.8 853.2L316.8 852.4L318.8 852.3L320.8 852.9L322.8 852.9L324.8 853.2L326.8 852.8L328.8 853.0L330.8 852.3L332.8 851.7L334.8 852.5L336.8 851.4L338.8 852.0L340.8 852.0L342.8 852.5L344.8 852.6L346.8 853.0L348.8 853.3L350.8 853.7L352.8 853.4L354.8 853.4L356.8 853.7L358.8 854.2L360.8 854.6L362.8 854.0L364.8 853.7L366.8 853.8L368.8 854.1L370.8 853.9L372.8 854.2L374.8 853.7L376.8 853.2L378.8 854.2L380.8 853.4L382.8 854.1L384.8 853.4L386.8 853.0L388.8 853.5L390.8 852.8L392.8 852.8L394.8 853.0L396.8 853.9L398.8 853.3L400.8 853.9L402.8 853.5L404.8 854.2L406.8 854.0L408.8 853.8L410.8 853.9L412.8 854.0L414.8 853.8L416.8 852.8L418.8 853.0L420.8 853.3L422.8 852.8L424.8 852.8L426.8 852.5L428.8 852.6L430.8 853.1L432.8 853.3L434.8 853.0L436.8 853.9L438.8 853.5L440.8 853.2L442.8 854.4L444.8 853.3L446.8 853.7L448.8 854.4L450.8 854.2L452.8 854.6L454.8 854.6L456.8 854.3L458.8 854.0L460.8 853.5L462.8 853.0L464.8 852.3L466.8 852.8L468.8 853.1L470.8 854.3L472.8 853.7L474.8 854.6L476.8 854.3L478.8 854.6L480.8 854.5L482.8 854.3L484.8 854.2L486.8 854.6L488.8 853.8L490.8 853.1L492.8 853.1L494.8 852.9L496.8 853.2L498.8 852.1L500.8 852.3L502.8 852.9L504.8 853.7L506.8 853.1L508.8 853.6L510.8 853.4L512.8 853.8L514.8 854.3L516.8 854.5L518.8 853.6L520.8 853.7L522.8 853.8L524.8 853.0L526.8 852.9L528.8 853.3L530.8 853.0L532.8 852.3L534.8 852.2L536.8 853.3L538.8 853.5L540.8 853.3L542.8 853.8L544.8 853.4L546.8 853.8L548.8 853.4L550.8 852.1L552.8 851.3L554.8 852.5L556.8 852.8L558.8 853.0L560.8 853.7L562.8 854.0L564.8 854.4L566.8 854.3L568.8 853.7L570.8 853.8L572.8 853.3L574.8 853.5L576.8 852.4L578.8 852.1L580.8 852.0L582.8 851.7L584.8 851.4L586.8 852.4L588.8 852.0L590.8 852.0L592.8 853.0L594.8 853.4L596.8 853.2L598.8 852.4L600.8 852.2L602.8 851.2L604.8 850.8L606.8 850.6L608.8 851.9L610.8 852.2L612.8 853.0L614.8 853.1L616.8 853.0L618.8 853.3L620.8 852.8L622.8 852.8L624.8 853.0L626.8 852.6L628.8 851.4L630.8 851.6L632.8 851.9L634.8 852.5L636.8 853.0L638.8 852.3L640.8 852.2L642.8 852.1L644.8 852.1L646.8 852.5L648.8 852.8L650.8 852.7L652.8 852.3L654.8 852.0L656.8 852.6L658.8 852.3L660.8 854.3L662.8 853.0L664.8 852.4L666.8 852.8L668.8 852.7L670.8 851.6L672.8 851.4L674.8 851.1L676.8 850.2L678.8 852.1L680.8 852.3L682.8 852.6L684.8 852.6L686.8 853.3L688.8 852.7L690.8 852.8L692.8 853.0L694.8 853.5L696.8 853.2L698.8 852.5L700.8 852.9L702.8 851.9L704.8 851.9L706.8 850.9L708.8 850.8L710.8 850.7L712.8 851.3L714.8 851.0L716.8 851.3L718.8 851.7L720.8 852.0L722.8 852.0L724.8 851.4L726.8 851.6L728.8 851.6L730.8 851.7L732.8 852.4L734.8 852.6L736.8 852.6L738.8 851.9L740.8 852.2L742.8 851.7L744.8 852.0L746.8 851.0L748.8 851.1L750.8 850.7L752.8 850.4L754.8 851.1L756.8 852.0L758.8 851.5L760.8 851.5L762.8 851.2L764.8 851.2L766.8 851.3L768.8 852.3L770.8 852.5L772.8 853.5L774.8 853.2L776.8 853.3L778.8 852.4L780.8 851.6L782.8 851.6L784.8 852.4L786.8 852.2L788.8 852.1L790.8 852.8L792.8 852.9L794.8 853.0L796.8 852.2L798.8 851.5L800.8 851.1L802.8 851.2L804.8 850.7L806.8 850.5L808.8 851.3L810.8 852.0L812.8 852.0L814.8 852.2L816.8 851.4L818.8 851.9L820.8 851.5L822.8 850.1L824.8 851.0L826.8 850.6L828.8 850.1L830.8 850.7L832.8 851.0L834.8 849.9L836.8 850.2L838.8 851.6L840.8 851.0L842.8 850.7L844.8 850.5L846.8 850.8L848.8 850.5L850.8 851.5L852.8 851.0L854.8 850.9L856.8 851.1L858.8 851.1L860.8 850.5L862.8 851.3L864.8 851.3L866.8 851.3L868.8 850.2L870.8 850.1L872.8 850.9L874.8 850.6L876.8 851.1L878.8 851.5L880.8 850.9L882.8 851.4L884.8 851.0L886.8 850.5L888.8 851.2L890.8 851.3L892.8 851.6L894.8 850.8L896.8 850.7L898.8 850.9L900.8 850.7L902.8 850.3L904.8 850.9L906.8 851.1L908.8 850.5L910.8 851.2L912.8 851.6L914.8 851.3L916.8 850.9L918.8 850.6L920.8 851.0L922.8 850.4L924.8 851.1L926.8 850.7L928.8 851.1L930.8 850.8L932.8 850.4L934.8 850.3L936.8 850.8L938.8 850.3L940.8 850.9L942.8 850.9L944.8 850.7L946.8 850.9L948.8 851.3L950.8 850.6L952.8 850.2L954.8 850.1L956.8 850.3L958.8 850.0L960.8 850.3L962.8 850.4L964.8 850.5L966.8 849.7L968.8 849.8L970.8 850.1L972.8 850.6L974.8 850.3L976.8 850.4L978.8 850.9L980.8 850.5L982.8 851.0L984.8 850.5L986.8 850.5L988.8 850.4L990.8 850.6L992.8 850.8L994.8 850.3L996.8 850.5L998.8 849.7L1000.8 850.3L1002.8 850.7L1004.8 850.4L1006.8 850.7L1008.8 850.9L1010.8 851.3L1012.8 851.4L1014.8 851.0L1016.8 850.5L1018.8 851.1L1020.8 851.0L1022.8 850.5L1024.8 850.4L1026.8 851.0L1028.8 851.6L1030.8 851.3L1032.8 851.1L1034.8 850.9L1036.8 850.6L1038.8 850.7L1040.8 851.3L1042.8 850.7L1044.8 850.8L1046.8 851.2L1048.8 851.0L1050.8 850.6L1052.8 850.7L1054.8 850.9L1056.8 850.4L1058.8 849.9L1060.8 850.0L1062.8 850.4L1064.8 850.8L1066.8 850.4L1068.8 850.0L1070.8 849.7L1072.8 849.8L1074.8 850.1L1076.8 849.9L1078.8 850.9L1080.8 851.0L1082.8 850.9L1084.8 850.9L1086.8 850.9L1088.8 851.0L1090.8 850.8L1092.8 851.0L1094.8 850.8L1096.8 850.6L1098.8 851.1L1100.8 850.8L1102.8 851.2L1104.8 850.7L1106.8 851.5L1108.8 851.0L1110.8 850.0L1112.8 850.8L1114.8 849.7L1116.8 850.1L1118.8 849.3L1120.8 849.8L1122.8 849.8L1124.8 850.1L1126.8 850.2L1128.8 850.4L1130.8 850.6L1132.8 850.0L1134.8 850.1L1136.8 849.8L1138.8 850.2L1140.8 849.0L1142.8 850.1L1144.8 849.3L1146.8 849.9L1148.8 849.5L1150.8 850.2L1152.8 850.0L1154.8 850.7L1156.8 851.4L1158.8 851.9L1160.8 851.6L1162.8 850.4L1164.8 850.2L1166.8 850.2L1168.8 850.3L1170.8 850.8L1172.8 851.1L1174.8 850.5L1176.8 850.8L1178.8 850.4L1180.8 850.7L1182.8 851.0L1184.8 850.9L1186.8 850.6L1188.8 850.9L1190.8 850.2L1192.8 850.0L1193.0 850.2" fill="none" stroke="#4a8dc6" stroke-width="2.0" stroke-linejoin="round" stroke-linecap="round"/>
<path d="M160.8 822.2L162.8 821.9L164.8 821.8L166.8 822.2L168.8 822.2L170.8 822.3L172.8 822.4L174.8 823.0L176.8 822.9L178.8 822.7L180.8 823.0L182.8 823.1L184.8 822.8L186.8 822.8L188.8 822.9L190.8 822.7L192.8 822.3L194.8 822.0L196.8 822.1L198.8 822.2L200.8 821.8L202.8 821.9L204.8 822.1L206.8 822.1L208.8 821.9L210.8 822.5L212.8 822.3L214.8 822.3L216.8 821.5L218.8 821.3L220.8 820.8L222.8 821.3L224.8 821.3L226.8 821.4L228.8 821.3L230.8 820.9L232.8 821.0L234.8 821.1L236.8 821.2L238.8 821.4L240.8 821.4L242.8 821.2L244.8 821.7L246.8 821.3L248.8 821.1L250.8 821.3L252.8 821.8L254.8 821.8L256.8 821.6L258.8 822.5L260.8 822.1L262.8 821.7L264.8 821.5L266.8 821.4L268.8 821.6L270.8 821.6L272.8 821.8L274.8 822.1L276.8 821.7L278.8 822.6L280.8 822.6L282.8 822.6L284.8 822.5L286.8 822.4L288.8 822.4L290.8 821.5L292.8 821.6L294.8 821.6L296.8 822.5L298.8 822.1L300.8 822.2L302.8 821.9L304.8 821.5L306.8 821.6L308.8 821.7L310.8 821.5L312.8 821.4L314.8 821.4L316.8 821.3L318.8 821.5L320.8 821.7L322.8 821.8L324.8 821.8L326.8 821.1L328.8 821.4L330.8 821.5L332.8 821.2L334.8 821.2L336.8 821.6L338.8 821.8L340.8 821.7L342.8 820.5L344.8 820.7L346.8 820.9L348.8 821.3L350.8 821.2L352.8 821.3L354.8 821.5L356.8 821.6L358.8 822.0L360.8 821.6L362.8 821.8L364.8 821.1L366.8 821.6L368.8 821.4L370.8 821.5L372.8 821.8L374.8 821.0L376.8 821.5L378.8 821.1L380.8 822.1L382.8 821.7L384.8 822.0L386.8 822.0L388.8 821.5L390.8 821.2L392.8 820.8L394.8 821.7L396.8 821.3L398.8 821.2L400.8 821.3L402.8 821.7L404.8 821.4L406.8 821.6L408.8 821.3L410.8 821.5L412.8 821.1L414.8 821.6L416.8 821.2L418.8 821.3L420.8 821.4L422.8 821.0L424.8 821.1L426.8 821.0L428.8 820.5L430.8 821.2L432.8 820.9L434.8 820.7L436.8 821.2L438.8 821.5L440.8 821.4L442.8 820.8L444.8 821.3L446.8 821.6L448.8 821.6L450.8 821.4L452.8 820.8L454.8 821.4L456.8 821.2L458.8 821.7L460.8 821.6L462.8 821.9L464.8 821.7L466.8 821.2L468.8 821.7L470.8 821.1L472.8 820.3L474.8 820.4L476.8 819.9L478.8 820.2L480.8 820.3L482.8 820.4L484.8 820.8L486.8 820.9L488.8 821.3L490.8 821.1L492.8 820.6L494.8 820.6L496.8 820.3L498.8 820.4L500.8 820.8L502.8 820.2L504.8 820.5L506.8 821.1L508.8 820.4L510.8 820.5L512.8 820.9L514.8 820.6L516.8 821.0L518.8 820.8L520.8 820.8L522.8 820.8L524.8 821.3L526.8 821.0L528.8 821.3L530.8 821.4L532.8 821.4L534.8 821.3L536.8 821.4L538.8 821.5L540.8 821.0L542.8 821.0L544.8 821.0L546.8 821.4L548.8 821.4L550.8 821.3L552.8 821.1L554.8 820.6L556.8 820.6L558.8 820.5L560.8 820.3L562.8 820.9L564.8 820.6L566.8 820.2L568.8 820.7L570.8 820.4L572.8 820.4L574.8 820.2L576.8 820.3L578.8 819.7L580.8 820.3L582.8 820.3L584.8 820.5L586.8 819.6L588.8 820.0L590.8 820.1L592.8 819.7L594.8 820.3L596.8 820.1L598.8 820.0L600.8 820.1L602.8 819.9L604.8 819.3L606.8 819.5L608.8 819.5L610.8 820.0L612.8 820.6L614.8 820.3L616.8 820.8L618.8 821.0L620.8 821.2L622.8 820.5L624.8 820.7L626.8 819.7L628.8 820.0L630.8 819.6L632.8 819.6L634.8 819.7L636.8 819.7L638.8 819.5L640.8 820.0L642.8 820.5L644.8 820.6L646.8 820.4L648.8 820.2L650.8 820.1L652.8 820.0L654.8 819.9L656.8 820.1L658.8 820.0L660.8 819.7L662.8 819.5L664.8 820.0L666.8 819.5L668.8 819.4L670.8 819.4L672.8 819.1L674.8 818.7L676.8 819.4L678.8 819.7L680.8 819.4L682.8 819.4L684.8 819.8L686.8 819.8L688.8 820.0L690.8 819.9L692.8 819.9L694.8 820.3L696.8 820.5L698.8 819.7L700.8 819.9L702.8 819.3L704.8 819.4L706.8 819.8L708.8 819.8L710.8 819.0L712.8 819.1L714.8 819.4L716.8 819.4L718.8 819.5L720.8 819.1L722.8 819.4L724.8 820.0L726.8 819.9L728.8 819.8L730.8 820.2L732.8 820.2L734.8 819.3L736.8 819.6L738.8 820.1L740.8 819.6L742.8 820.0L744.8 820.1L746.8 820.1L748.8 820.0L750.8 819.9L752.8 820.3L754.8 819.6L756.8 819.9L758.8 820.2L760.8 819.7L762.8 819.8L764.8 819.4L766.8 818.8L768.8 819.0L770.8 818.8L772.8 819.2L774.8 819.1L776.8 819.4L778.8 819.5L780.8 819.7L782.8 819.9L784.8 819.8L786.8 819.4L788.8 819.8L790.8 819.5L792.8 819.7L794.8 819.3L796.8 819.1L798.8 819.7L800.8 819.2L802.8 819.8L804.8 819.3L806.8 819.2L808.8 819.8L810.8 819.8L812.8 819.5L814.8 819.7L816.8 818.5L818.8 818.9L820.8 818.7L822.8 818.8L824.8 818.6L826.8 819.0L828.8 819.0L830.8 819.0L832.8 819.4L834.8 819.5L836.8 819.5L838.8 819.8L840.8 819.7L842.8 820.2L844.8 819.5L846.8 820.2L848.8 820.0L850.8 819.8L852.8 819.9L854.8 819.4L856.8 819.8L858.8 819.4L860.8 819.7L862.8 819.8L864.8 819.7L866.8 819.4L868.8 819.5L870.8 819.7L872.8 819.3L874.8 819.4L876.8 819.0L878.8 819.6L880.8 819.0L882.8 819.0L884.8 819.0L886.8 819.1L888.8 819.3L890.8 819.2L892.8 819.7L894.8 819.7L896.8 820.3L898.8 819.8L900.8 819.5L902.8 819.1L904.8 819.9L906.8 820.0L908.8 819.7L910.8 820.0L912.8 819.6L914.8 819.6L916.8 819.3L918.8 818.9L920.8 819.7L922.8 818.9L924.8 818.8L926.8 818.7L928.8 818.5L930.8 819.0L932.8 819.2L934.8 819.6L936.8 819.3L938.8 819.9L940.8 819.4L942.8 819.5L944.8 819.5L946.8 818.9L948.8 819.5L950.8 819.3L952.8 819.5L954.8 820.0L956.8 819.7L958.8 820.4L960.8 820.6L962.8 820.7L964.8 820.5L966.8 820.2L968.8 819.7L970.8 819.8L972.8 820.0L974.8 820.1L976.8 820.5L978.8 820.4L980.8 821.0L982.8 821.1L984.8 820.6L986.8 820.4L988.8 819.9L990.8 820.0L992.8 819.9L994.8 820.7L996.8 820.6L998.8 820.3L1000.8 821.4L1002.8 820.7L1004.8 820.5L1006.8 820.3L1008.8 819.8L1010.8 819.3L1012.8 818.7L1014.8 819.8L1016.8 819.3L1018.8 820.5L1020.8 820.0L1022.8 820.1L1024.8 819.8L1026.8 820.3L1028.8 819.9L1030.8 820.0L1032.8 820.4L1034.8 820.0L1036.8 820.4L1038.8 820.0L1040.8 819.9L1042.8 819.8L1044.8 820.0L1046.8 819.9L1048.8 820.1L1050.8 820.0L1052.8 819.8L1054.8 820.1L1056.8 819.7L1058.8 820.4L1060.8 820.4L1062.8 820.7L1064.8 820.2L1066.8 820.6L1068.8 819.6L1070.8 820.2L1072.8 819.9L1074.8 820.1L1076.8 819.3L1078.8 818.4L1080.8 818.9L1082.8 818.4L1084.8 818.4L1086.8 818.9L1088.8 818.3L1090.8 818.3L1092.8 817.8L1094.8 818.2L1096.8 817.5L1098.8 818.2L1100.8 818.2L1102.8 818.4L1104.8 818.1L1106.8 818.3L1108.8 818.3L1110.8 818.6L1112.8 818.6L1114.8 818.2L1116.8 818.1L1118.8 817.5L1120.8 818.0L1122.8 817.5L1124.8 818.1L1126.8 818.0L1128.8 817.7L1130.8 817.5L1132.8 817.5L1134.8 817.9L1136.8 817.9L1138.8 817.8L1140.8 818.0L1142.8 817.6L1144.8 818.7L1146.8 818.2L1148.8 818.0L1150.8 818.2L1152.8 818.3L1154.8 818.0L1156.8 817.7L1158.8 818.6L1160.8 818.0L1162.8 818.6L1164.8 818.6L1166.8 818.4L1168.8 818.2L1170.8 818.6L1172.8 818.9L1174.8 819.3L1176.8 819.2L1178.8 818.7L1180.8 819.1L1182.8 819.3L1184.8 819.1L1186.8 819.0L1188.8 819.1L1190.8 819.1L1192.8 819.0L1193.0 818.8" fill="none" stroke="#d87c5c" stroke-width="2.0" stroke-linejoin="round" stroke-linecap="round"/>
<path d="M160.8 791.2L162.8 791.1L164.8 791.0L166.8 791.6L168.8 791.0L170.8 791.2L172.8 791.2L174.8 790.9L176.8 791.4L178.8 791.1L180.8 791.2L182.8 791.5L184.8 790.9L186.8 791.0L188.8 790.9L190.8 790.8L192.8 791.4L194.8 791.1L196.8 791.3L198.8 790.6L200.8 790.8L202.8 790.7L204.8 790.6L206.8 790.0L208.8 790.1L210.8 790.5L212.8 790.6L214.8 790.5L216.8 790.6L218.8 790.8L220.8 790.3L222.8 790.9L224.8 790.2L226.8 790.5L228.8 790.6L230.8 790.3L232.8 790.8L234.8 790.5L236.8 790.3L238.8 790.5L240.8 790.3L242.8 790.4L244.8 790.2L246.8 790.2L248.8 789.8L250.8 790.2L252.8 789.9L254.8 790.0L256.8 789.6L258.8 789.9L260.8 790.3L262.8 790.5L264.8 790.5L266.8 790.4L268.8 790.6L270.8 790.3L272.8 790.3L274.8 790.4L276.8 790.1L278.8 790.3L280.8 789.8L282.8 789.8L284.8 789.8L286.8 789.4L288.8 789.7L290.8 789.6L292.8 789.6L294.8 789.3L296.8 789.6L298.8 789.9L300.8 790.1L302.8 789.5L304.8 789.2L306.8 789.4L308.8 789.8L310.8 789.9L312.8 789.8L314.8 790.1L316.8 789.9L318.8 789.9L320.8 789.7L322.8 789.9L324.8 789.9L326.8 789.3L328.8 789.5L330.8 789.3L332.8 789.3L334.8 789.4L336.8 789.9L338.8 789.5L340.8 789.3L342.8 789.4L344.8 788.9L346.8 789.0L348.8 789.5L350.8 788.9L352.8 788.9L354.8 788.8L356.8 789.1L358.8 788.8L360.8 789.2L362.8 788.8L364.8 789.3L366.8 789.1L368.8 789.0L370.8 789.2L372.8 789.6L374.8 789.5L376.8 789.4L378.8 789.3L380.8 789.8L382.8 789.4L384.8 789.5L386.8 789.1L388.8 789.3L390.8 789.1L392.8 789.5L394.8 789.2L396.8 789.2L398.8 789.3L400.8 789.2L402.8 789.0L404.8 789.1L406.8 788.8L408.8 788.7L410.8 789.4L412.8 789.0L414.8 789.0L416.8 789.0L418.8 788.7L420.8 788.8L422.8 789.1L424.8 789.2L426.8 789.0L428.8 788.8L430.8 788.7L432.8 789.2L434.8 788.7L436.8 789.1L438.8 788.8L440.8 788.6L442.8 788.4L444.8 788.4L446.8 788.2L448.8 788.2L450.8 788.1L452.8 788.3L454.8 788.1L456.8 788.2L458.8 788.1L460.8 788.7L462.8 788.4L464.8 788.8L466.8 788.7L468.8 788.5L470.8 788.8L472.8 788.2L474.8 788.5L476.8 788.7L478.8 788.7L480.8 788.4L482.8 788.4L484.8 788.8L486.8 788.8L488.8 788.9L490.8 789.0L492.8 788.9L494.8 788.6L496.8 788.2L498.8 788.4L500.8 788.0L502.8 788.1L504.8 788.2L506.8 788.1L508.8 788.3L510.8 788.9L512.8 788.7L514.8 788.5L516.8 788.3L518.8 788.5L520.8 788.2L522.8 788.8L524.8 789.0L526.8 789.1L528.8 789.6L530.8 789.5L532.8 789.7L534.8 789.3L536.8 789.5L538.8 789.0L540.8 789.2L542.8 789.3L544.8 789.6L546.8 789.6L548.8 789.9L550.8 790.5L552.8 790.0L554.8 790.1L556.8 790.1L558.8 789.9L560.8 789.7L562.8 789.8L564.8 789.7L566.8 790.0L568.8 789.6L570.8 789.7L572.8 789.7L574.8 789.5L576.8 789.7L578.8 790.1L580.8 790.5L582.8 790.3L584.8 790.0L586.8 789.8L588.8 789.6L590.8 789.5L592.8 789.6L594.8 789.3L596.8 789.3L598.8 789.4L600.8 789.5L602.8 789.7L604.8 790.0L606.8 790.0L608.8 789.8L610.8 789.5L612.8 789.6L614.8 789.2L616.8 789.5L618.8 789.5L620.8 789.8L622.8 790.0L624.8 789.9L626.8 789.7L628.8 789.6L630.8 789.8L632.8 789.5L634.8 789.7L636.8 789.9L638.8 789.5L640.8 789.4L642.8 789.3L644.8 789.0L646.8 789.0L648.8 789.3L650.8 789.3L652.8 789.3L654.8 789.2L656.8 789.0L658.8 788.9L660.8 788.9L662.8 788.8L664.8 788.6L666.8 788.2L668.8 788.7L670.8 788.1L672.8 788.4L674.8 788.1L676.8 788.7L678.8 788.1L680.8 788.5L682.8 788.6L684.8 788.9L686.8 788.8L688.8 788.5L690.8 789.0L692.8 788.7L694.8 789.0L696.8 789.0L698.8 789.1L700.8 788.9L702.8 788.9L704.8 788.6L706.8 788.9L708.8 788.5L710.8 788.7L712.8 788.1L714.8 788.3L716.8 788.0L718.8 788.2L720.8 788.1L722.8 788.2L724.8 788.5L726.8 788.4L728.8 788.2L730.8 788.6L732.8 787.9L734.8 788.0L736.8 787.7L738.8 787.8L740.8 787.9L742.8 788.3L744.8 787.7L746.8 787.9L748.8 787.7L750.8 787.8L752.8 787.5L754.8 787.6L756.8 787.3L758.8 787.6L760.8 787.6L762.8 787.5L764.8 787.9L766.8 787.8L768.8 787.9L770.8 787.8L772.8 787.6L774.8 787.2L776.8 786.9L778.8 787.0L780.8 787.2L782.8 787.4L784.8 787.7L786.8 787.6L788.8 787.8L790.8 787.7L792.8 788.0L794.8 787.8L796.8 787.7L798.8 787.7L800.8 787.8L802.8 787.7L804.8 787.7L806.8 787.9L808.8 787.5L810.8 787.2L812.8 787.4L814.8 787.1L816.8 786.8L818.8 787.0L820.8 787.3L822.8 788.0L824.8 788.0L826.8 788.2L828.8 788.2L830.8 788.0L832.8 787.9L834.8 787.9L836.8 788.0L838.8 788.2L840.8 788.2L842.8 788.2L844.8 788.3L846.8 787.5L848.8 787.3L850.8 787.3L852.8 786.8L854.8 787.2L856.8 787.8L858.8 788.3L860.8 788.3L862.8 788.3L864.8 788.1L866.8 788.1L868.8 788.0L870.8 787.8L872.8 788.0L874.8 787.7L876.8 788.5L878.8 787.8L880.8 788.1L882.8 787.6L884.8 788.0L886.8 788.1L888.8 787.7L890.8 787.7L892.8 787.7L894.8 787.7L896.8 788.1L898.8 788.0L900.8 788.1L902.8 787.9L904.8 788.1L906.8 788.2L908.8 788.0L910.8 787.7L912.8 787.4L914.8 787.7L916.8 787.9L918.8 787.8L920.8 788.2L922.8 788.0L924.8 787.9L926.8 787.9L928.8 788.1L930.8 788.2L932.8 787.7L934.8 788.0L936.8 788.2L938.8 788.3L940.8 788.0L942.8 788.3L944.8 788.2L946.8 788.2L948.8 788.0L950.8 788.1L952.8 788.0L954.8 788.0L956.8 787.9L958.8 787.9L960.8 787.6L962.8 788.1L964.8 788.0L966.8 788.1L968.8 787.6L970.8 787.6L972.8 787.6L974.8 787.8L976.8 788.0L978.8 788.1L980.8 788.2L982.8 787.9L984.8 787.6L986.8 787.8L988.8 787.9L990.8 787.5L992.8 787.2L994.8 787.5L996.8 787.7L998.8 788.3L1000.8 788.5L1002.8 788.2L1004.8 788.6L1006.8 788.3L1008.8 788.3L1010.8 788.5L1012.8 788.3L1014.8 788.3L1016.8 788.2L1018.8 788.4L1020.8 788.7L1022.8 788.7L1024.8 789.0L1026.8 789.1L1028.8 788.3L1030.8 788.7L1032.8 788.4L1034.8 788.6L1036.8 788.9L1038.8 789.4L1040.8 789.2L1042.8 789.7L1044.8 789.9L1046.8 790.0L1048.8 789.9L1050.8 789.7L1052.8 789.7L1054.8 789.6L1056.8 789.4L1058.8 789.3L1060.8 788.7L1062.8 788.8L1064.8 788.5L1066.8 788.3L1068.8 787.8L1070.8 787.1L1072.8 787.3L1074.8 787.3L1076.8 787.5L1078.8 787.6L1080.8 787.4L1082.8 787.1L1084.8 787.2L1086.8 787.1L1088.8 786.6L1090.8 786.5L1092.8 786.2L1094.8 786.0L1096.8 785.8L1098.8 785.6L1100.8 785.9L1102.8 785.6L1104.8 785.7L1106.8 786.1L1108.8 786.0L1110.8 785.3L1112.8 785.1L1114.8 785.3L1116.8 785.8L1118.8 785.7L1120.8 785.9L1122.8 785.9L1124.8 786.2L1126.8 786.5L1128.8 786.6L1130.8 787.1L1132.8 786.6L1134.8 786.9L1136.8 787.0L1138.8 787.3L1140.8 787.8L1142.8 787.8L1144.8 787.7L1146.8 787.9L1148.8 787.6L1150.8 787.8L1152.8 787.5L1154.8 787.4L1156.8 787.5L1158.8 787.3L1160.8 787.5L1162.8 787.6L1164.8 787.4L1166.8 787.7L1168.8 787.3L1170.8 787.5L1172.8 787.5L1174.8 787.4L1176.8 787.7L1178.8 787.6L1180.8 787.7L1182.8 787.8L1184.8 788.3L1186.8 788.5L1188.8 788.0L1190.8 788.2L1192.8 787.8L1193.0 787.6" fill="none" stroke="#e8c062" stroke-width="2.0" stroke-linejoin="round" stroke-linecap="round"/>
<path d="M160.8 739.5L162.8 739.4L164.8 739.1L166.8 739.3L168.8 739.5L170.8 739.5L172.8 739.7L174.8 739.8L176.8 739.2L178.8 738.8L180.8 738.6L182.8 739.1L184.8 739.0L186.8 739.4L188.8 739.9L190.8 739.6L192.8 739.4L194.8 739.5L196.8 739.5L198.8 739.1L200.8 738.6L202.8 738.4L204.8 738.3L206.8 738.7L208.8 738.4L210.8 738.2L212.8 738.9L214.8 739.3L216.8 739.8L218.8 738.9L220.8 739.1L222.8 739.0L224.8 738.4L226.8 738.3L228.8 738.8L230.8 738.0L232.8 738.3L234.8 737.9L236.8 738.2L238.8 738.0L240.8 737.9L242.8 737.5L244.8 737.8L246.8 737.6L248.8 737.5L250.8 737.8L252.8 738.1L254.8 738.2L256.8 738.1L258.8 737.4L260.8 737.4L262.8 737.4L264.8 737.2L266.8 737.6L268.8 737.9L270.8 738.4L272.8 738.2L274.8 738.7L276.8 737.5L278.8 737.5L280.8 737.6L282.8 737.4L284.8 737.2L286.8 737.9L288.8 737.2L290.8 737.4L292.8 737.0L294.8 736.9L296.8 737.0L298.8 737.1L300.8 736.9L302.8 736.8L304.8 737.5L306.8 737.0L308.8 736.8L310.8 736.9L312.8 736.9L314.8 736.5L316.8 736.8L318.8 736.5L320.8 736.5L322.8 737.0L324.8 736.5L326.8 737.4L328.8 736.8L330.8 736.7L332.8 736.4L334.8 737.5L336.8 737.4L338.8 737.3L340.8 737.0L342.8 736.4L344.8 736.1L346.8 735.8L348.8 736.1L350.8 736.2L352.8 735.8L354.8 736.6L356.8 736.2L358.8 735.6L360.8 735.7L362.8 736.1L364.8 735.2L366.8 736.1L368.8 735.5L370.8 735.6L372.8 735.4L374.8 735.4L376.8 735.1L378.8 735.1L380.8 735.4L382.8 735.2L384.8 735.4L386.8 735.4L388.8 735.8L390.8 735.9L392.8 735.6L394.8 735.5L396.8 735.3L398.8 735.0L400.8 733.9L402.8 734.5L404.8 735.1L406.8 735.0L408.8 735.2L410.8 735.2L412.8 735.1L414.8 734.6L416.8 734.3L418.8 734.3L420.8 733.7L422.8 734.0L424.8 734.0L426.8 734.3L428.8 734.3L430.8 734.2L432.8 734.1L434.8 734.2L436.8 733.9L438.8 734.4L440.8 733.8L442.8 734.1L444.8 734.0L446.8 733.3L448.8 733.5L450.8 733.9L452.8 733.9L454.8 733.8L456.8 733.5L458.8 733.7L460.8 733.5L462.8 733.4L464.8 733.2L466.8 733.4L468.8 733.1L470.8 733.1L472.8 733.1L474.8 733.3L476.8 733.2L478.8 732.7L480.8 733.1L482.8 732.9L484.8 732.8L486.8 732.7L488.8 733.2L490.8 733.5L492.8 734.1L494.8 733.7L496.8 733.9L498.8 732.9L500.8 732.1L502.8 732.4L504.8 732.4L506.8 732.8L508.8 732.7L510.8 733.2L512.8 733.2L514.8 733.7L516.8 733.4L518.8 733.5L520.8 733.2L522.8 733.3L524.8 733.8L526.8 733.9L528.8 734.1L530.8 733.7L532.8 733.7L534.8 733.5L536.8 733.3L538.8 734.0L540.8 733.9L542.8 734.2L544.8 735.0L546.8 735.0L548.8 735.6L550.8 735.8L552.8 736.1L554.8 736.7L556.8 736.7L558.8 737.0L560.8 737.3L562.8 737.9L564.8 738.4L566.8 738.1L568.8 737.9L570.8 737.8L572.8 737.7L574.8 737.1L576.8 737.5L578.8 737.9L580.8 737.7L582.8 737.6L584.8 737.3L586.8 737.3L588.8 736.5L590.8 737.5L592.8 737.9L594.8 738.0L596.8 737.6L598.8 737.8L600.8 737.3L602.8 737.0L604.8 736.8L606.8 737.1L608.8 737.4L610.8 737.8L612.8 737.4L614.8 737.2L616.8 737.1L618.8 737.5L620.8 736.7L622.8 737.6L624.8 737.7L626.8 737.4L628.8 737.9L630.8 737.3L632.8 737.6L634.8 738.3L636.8 737.1L638.8 737.5L640.8 737.6L642.8 737.4L644.8 737.6L646.8 737.5L648.8 737.4L650.8 737.3L652.8 736.8L654.8 736.3L656.8 737.4L658.8 737.3L660.8 737.7L662.8 737.4L664.8 737.6L666.8 737.7L668.8 736.9L670.8 737.1L672.8 737.5L674.8 736.8L676.8 737.0L678.8 737.0L680.8 737.0L682.8 736.8L684.8 737.0L686.8 737.7L688.8 737.6L690.8 737.0L692.8 737.1L694.8 737.0L696.8 736.6L698.8 736.3L700.8 736.5L702.8 736.7L704.8 737.0L706.8 737.0L708.8 736.8L710.8 736.7L712.8 736.6L714.8 736.6L716.8 736.9L718.8 736.9L720.8 736.5L722.8 736.0L724.8 736.6L726.8 736.3L728.8 736.8L730.8 736.5L732.8 736.8L734.8 737.1L736.8 736.6L738.8 737.2L740.8 736.9L742.8 737.0L744.8 736.0L746.8 735.6L748.8 735.8L750.8 735.2L752.8 735.2L754.8 735.6L756.8 735.8L758.8 735.7L760.8 735.6L762.8 736.0L764.8 736.3L766.8 736.1L768.8 735.7L770.8 735.5L772.8 735.4L774.8 735.1L776.8 734.7L778.8 734.7L780.8 734.5L782.8 734.7L784.8 735.3L786.8 735.0L788.8 734.5L790.8 735.3L792.8 734.6L794.8 734.6L796.8 734.5L798.8 734.3L800.8 734.4L802.8 733.8L804.8 734.1L806.8 733.9L808.8 733.6L810.8 733.4L812.8 733.4L814.8 734.1L816.8 733.7L818.8 733.6L820.8 733.8L822.8 733.7L824.8 733.9L826.8 734.3L828.8 733.8L830.8 733.3L832.8 733.7L834.8 733.4L836.8 733.8L838.8 734.0L840.8 734.2L842.8 734.7L844.8 734.1L846.8 733.7L848.8 734.0L850.8 733.7L852.8 732.6L854.8 733.0L856.8 733.0L858.8 733.2L860.8 733.5L862.8 733.4L864.8 732.8L866.8 732.6L868.8 732.7L870.8 732.8L872.8 733.1L874.8 733.0L876.8 732.5L878.8 732.7L880.8 732.4L882.8 732.0L884.8 732.0L886.8 731.9L888.8 732.1L890.8 731.8L892.8 731.7L894.8 731.7L896.8 731.7L898.8 731.9L900.8 731.8L902.8 732.0L904.8 732.2L906.8 732.1L908.8 732.2L910.8 731.9L912.8 732.0L914.8 732.6L916.8 732.7L918.8 732.7L920.8 733.3L922.8 733.2L924.8 733.4L926.8 733.1L928.8 733.5L930.8 733.1L932.8 733.2L934.8 733.5L936.8 733.5L938.8 733.4L940.8 733.8L942.8 733.3L944.8 733.7L946.8 734.2L948.8 734.7L950.8 735.0L952.8 734.7L954.8 734.6L956.8 734.4L958.8 733.9L960.8 733.8L962.8 733.1L964.8 732.6L966.8 732.4L968.8 732.1L970.8 731.8L972.8 731.1L974.8 731.4L976.8 731.5L978.8 731.7L980.8 731.7L982.8 731.6L984.8 732.0L986.8 732.2L988.8 732.6L990.8 732.9L992.8 733.0L994.8 733.0L996.8 732.9L998.8 733.4L1000.8 732.2L1002.8 732.3L1004.8 732.3L1006.8 732.5L1008.8 732.3L1010.8 732.9L1012.8 733.4L1014.8 734.3L1016.8 734.8L1018.8 735.2L1020.8 735.9L1022.8 736.6L1024.8 737.4L1026.8 737.6L1028.8 738.4L1030.8 738.9L1032.8 738.7L1034.8 739.3L1036.8 739.3L1038.8 739.2L1040.8 738.9L1042.8 739.0L1044.8 737.7L1046.8 738.0L1048.8 737.5L1050.8 737.3L1052.8 736.7L1054.8 736.7L1056.8 736.8L1058.8 736.6L1060.8 736.7L1062.8 736.4L1064.8 736.2L1066.8 735.5L1068.8 735.0L1070.8 734.8L1072.8 735.1L1074.8 734.9L1076.8 735.1L1078.8 734.8L1080.8 734.5L1082.8 733.8L1084.8 733.3L1086.8 733.1L1088.8 732.8L1090.8 732.4L1092.8 731.7L1094.8 730.9L1096.8 730.3L1098.8 729.8L1100.8 729.9L1102.8 729.2L1104.8 728.9L1106.8 728.6L1108.8 728.0L1110.8 727.9L1112.8 728.7L1114.8 728.8L1116.8 728.8L1118.8 728.6L1120.8 729.1L1122.8 728.6L1124.8 728.4L1126.8 728.6L1128.8 729.4L1130.8 729.4L1132.8 729.8L1134.8 730.6L1136.8 731.0L1138.8 730.7L1140.8 731.1L1142.8 732.1L1144.8 732.0L1146.8 732.2L1148.8 732.5L1150.8 732.6L1152.8 732.6L1154.8 733.1L1156.8 732.8L1158.8 732.6L1160.8 732.5L1162.8 732.7L1164.8 733.3L1166.8 733.6L1168.8 733.7L1170.8 734.0L1172.8 733.9L1174.8 733.9L1176.8 733.6L1178.8 733.9L1180.8 733.9L1182.8 734.2L1184.8 734.3L1186.8 734.6L1188.8 734.7L1190.8 734.4L1192.8 734.0L1193.0 733.5" fill="none" stroke="#8cb563" stroke-width="2.0" stroke-linejoin="round" stroke-linecap="round"/>
<path d="M160.8 719.5L162.8 720.4L164.8 719.5L166.8 719.3L168.8 719.3L170.8 719.3L172.8 719.1L174.8 719.0L176.8 718.6L178.8 718.4L180.8 718.8L182.8 718.7L184.8 718.3L186.8 718.3L188.8 718.7L190.8 719.0L192.8 718.9L194.8 719.0L196.8 719.1L198.8 718.7L200.8 718.6L202.8 718.4L204.8 718.0L206.8 717.9L208.8 718.0L210.8 718.1L212.8 717.7L214.8 718.4L216.8 718.4L218.8 718.4L220.8 718.5L222.8 717.9L224.8 718.1L226.8 717.8L228.8 718.0L230.8 718.6L232.8 718.4L234.8 717.7L236.8 717.7L238.8 717.9L240.8 717.4L242.8 717.3L244.8 718.1L246.8 717.7L248.8 717.8L250.8 717.9L252.8 717.5L254.8 717.4L256.8 717.7L258.8 717.7L260.8 717.8L262.8 717.7L264.8 717.8L266.8 717.7L268.8 717.7L270.8 717.4L272.8 717.2L274.8 717.1L276.8 716.9L278.8 717.6L280.8 716.9L282.8 716.3L284.8 716.8L286.8 717.3L288.8 717.0L290.8 717.3L292.8 717.2L294.8 716.8L296.8 716.8L298.8 715.8L300.8 716.7L302.8 716.3L304.8 716.5L306.8 716.7L308.8 716.7L310.8 716.5L312.8 716.2L314.8 716.5L316.8 715.8L318.8 715.8L320.8 715.2L322.8 715.2L324.8 715.4L326.8 715.4L328.8 715.3L330.8 715.2L332.8 715.8L334.8 716.6L336.8 716.4L338.8 716.1L340.8 716.2L342.8 716.2L344.8 715.9L346.8 715.5L348.8 715.8L350.8 716.2L352.8 715.5L354.8 715.7L356.8 715.0L358.8 714.8L360.8 714.4L362.8 714.5L364.8 714.9L366.8 714.9L368.8 715.2L370.8 715.1L372.8 715.5L374.8 715.0L376.8 715.2L378.8 714.7L380.8 714.6L382.8 714.6L384.8 714.4L386.8 714.2L388.8 713.5L390.8 713.1L392.8 714.1L394.8 713.5L396.8 713.1L398.8 713.4L400.8 713.6L402.8 713.1L404.8 713.5L406.8 713.0L408.8 713.2L410.8 713.2L412.8 712.9L414.8 712.3L416.8 712.5L418.8 712.8L420.8 713.0L422.8 713.6L424.8 712.8L426.8 713.9L428.8 713.5L430.8 713.8L432.8 714.4L434.8 714.0L436.8 713.6L438.8 713.0L440.8 713.5L442.8 713.2L444.8 713.0L446.8 712.6L448.8 712.5L450.8 712.2L452.8 712.4L454.8 712.2L456.8 712.8L458.8 713.2L460.8 713.2L462.8 712.8L464.8 712.4L466.8 712.7L468.8 712.8L470.8 712.8L472.8 712.9L474.8 713.1L476.8 712.8L478.8 712.4L480.8 712.6L482.8 712.5L484.8 712.6L486.8 712.2L488.8 711.7L490.8 712.0L492.8 712.1L494.8 712.0L496.8 712.0L498.8 712.1L500.8 711.6L502.8 711.8L504.8 711.7L506.8 711.8L508.8 712.6L510.8 712.4L512.8 712.7L514.8 712.4L516.8 712.2L518.8 712.0L520.8 711.8L522.8 711.7L524.8 711.7L526.8 712.3L528.8 712.3L530.8 712.3L532.8 711.9L534.8 712.2L536.8 712.8L538.8 713.1L540.8 713.4L542.8 713.9L544.8 714.6L546.8 714.6L548.8 714.7L550.8 715.0L552.8 714.7L554.8 715.0L556.8 715.5L558.8 715.9L560.8 716.3L562.8 716.4L564.8 716.1L566.8 716.2L568.8 716.6L570.8 716.7L572.8 716.7L574.8 716.5L576.8 716.3L578.8 716.7L580.8 716.9L582.8 716.4L584.8 716.6L586.8 717.1L588.8 717.1L590.8 716.6L592.8 717.1L594.8 716.2L596.8 716.1L598.8 715.9L600.8 716.6L602.8 716.7L604.8 716.5L606.8 716.6L608.8 716.5L610.8 717.3L612.8 717.2L614.8 717.0L616.8 716.2L618.8 716.1L620.8 716.6L622.8 716.8L624.8 716.5L626.8 717.0L628.8 716.7L630.8 717.0L632.8 717.0L634.8 716.9L636.8 717.2L638.8 717.0L640.8 717.1L642.8 716.5L644.8 716.4L646.8 716.6L648.8 716.6L650.8 717.1L652.8 717.5L654.8 717.1L656.8 717.3L658.8 717.2L660.8 716.9L662.8 716.9L664.8 716.7L666.8 716.5L668.8 716.7L670.8 716.4L672.8 716.0L674.8 715.6L676.8 716.0L678.8 715.9L680.8 715.4L682.8 715.8L684.8 715.7L686.8 715.4L688.8 715.7L690.8 715.5L692.8 715.4L694.8 715.5L696.8 715.5L698.8 715.5L700.8 715.1L702.8 715.7L704.8 715.4L706.8 715.5L708.8 715.1L710.8 715.7L712.8 715.5L714.8 715.1L716.8 714.5L718.8 714.8L720.8 714.5L722.8 714.6L724.8 714.8L726.8 714.1L728.8 713.9L730.8 714.1L732.8 713.9L734.8 713.9L736.8 714.0L738.8 713.5L740.8 713.9L742.8 714.0L744.8 713.9L746.8 714.5L748.8 714.6L750.8 714.6L752.8 714.7L754.8 714.2L756.8 713.4L758.8 714.0L760.8 713.7L762.8 714.3L764.8 714.0L766.8 713.9L768.8 713.7L770.8 713.6L772.8 713.3L774.8 713.4L776.8 712.6L778.8 713.5L780.8 713.5L782.8 714.1L784.8 714.0L786.8 713.3L788.8 713.3L790.8 713.0L792.8 713.2L794.8 713.9L796.8 714.0L798.8 713.4L800.8 712.8L802.8 712.8L804.8 713.0L806.8 712.8L808.8 713.2L810.8 713.0L812.8 713.3L814.8 713.6L816.8 713.8L818.8 713.4L820.8 713.1L822.8 712.7L824.8 712.5L826.8 712.7L828.8 712.3L830.8 712.5L832.8 712.3L834.8 712.5L836.8 711.7L838.8 711.0L840.8 711.2L842.8 711.2L844.8 711.4L846.8 711.3L848.8 711.8L850.8 711.9L852.8 711.9L854.8 712.1L856.8 711.9L858.8 712.0L860.8 711.9L862.8 712.2L864.8 711.2L866.8 711.3L868.8 710.8L870.8 710.8L872.8 711.1L874.8 710.8L876.8 710.7L878.8 710.9L880.8 710.7L882.8 710.4L884.8 710.4L886.8 710.6L888.8 710.7L890.8 710.2L892.8 710.2L894.8 710.0L896.8 710.4L898.8 710.8L900.8 710.4L902.8 710.3L904.8 710.5L906.8 710.6L908.8 710.3L910.8 710.0L912.8 709.9L914.8 711.0L916.8 710.0L918.8 709.8L920.8 709.8L922.8 709.6L924.8 710.2L926.8 710.2L928.8 710.2L930.8 710.4L932.8 710.3L934.8 710.9L936.8 710.8L938.8 711.2L940.8 711.6L942.8 711.2L944.8 711.8L946.8 712.3L948.8 712.3L950.8 712.4L952.8 713.5L954.8 713.4L956.8 712.1L958.8 711.9L960.8 711.9L962.8 711.6L964.8 711.0L966.8 710.4L968.8 710.2L970.8 709.4L972.8 709.8L974.8 709.5L976.8 709.6L978.8 709.9L980.8 709.9L982.8 710.3L984.8 710.1L986.8 710.8L988.8 710.6L990.8 711.3L992.8 711.9L994.8 712.2L996.8 712.3L998.8 713.2L1000.8 713.0L1002.8 712.1L1004.8 711.9L1006.8 711.6L1008.8 711.5L1010.8 711.7L1012.8 713.0L1014.8 713.9L1016.8 715.0L1018.8 715.6L1020.8 716.4L1022.8 717.3L1024.8 718.1L1026.8 718.6L1028.8 719.5L1030.8 719.4L1032.8 719.0L1034.8 718.7L1036.8 718.8L1038.8 718.4L1040.8 718.5L1042.8 718.6L1044.8 718.3L1046.8 718.1L1048.8 718.8L1050.8 718.5L1052.8 717.7L1054.8 717.4L1056.8 716.6L1058.8 716.7L1060.8 715.7L1062.8 715.1L1064.8 714.8L1066.8 714.7L1068.8 714.8L1070.8 714.5L1072.8 713.7L1074.8 713.8L1076.8 713.6L1078.8 712.8L1080.8 713.1L1082.8 712.8L1084.8 712.5L1086.8 712.1L1088.8 712.1L1090.8 711.6L1092.8 710.9L1094.8 710.1L1096.8 709.3L1098.8 708.4L1100.8 707.1L1102.8 706.8L1104.8 706.6L1106.8 706.5L1108.8 706.5L1110.8 706.2L1112.8 706.0L1114.8 705.6L1116.8 705.9L1118.8 706.0L1120.8 705.7L1122.8 706.2L1124.8 706.2L1126.8 707.0L1128.8 707.9L1130.8 707.8L1132.8 708.5L1134.8 708.9L1136.8 709.1L1138.8 709.0L1140.8 708.5L1142.8 709.2L1144.8 710.2L1146.8 710.7L1148.8 710.5L1150.8 710.3L1152.8 710.2L1154.8 710.5L1156.8 710.6L1158.8 711.0L1160.8 710.7L1162.8 710.8L1164.8 711.2L1166.8 711.0L1168.8 711.4L1170.8 711.4L1172.8 711.9L1174.8 711.6L1176.8 711.8L1178.8 711.7L1180.8 712.1L1182.8 712.3L1184.8 711.5L1186.8 711.8L1188.8 712.0L1190.8 711.9L1192.8 711.3L1193.0 711.9" fill="none" stroke="#80c2eb" stroke-width="2.0" stroke-linejoin="round" stroke-linecap="round"/>
<path d="M160.8 690.8L162.8 691.3L164.8 691.8L166.8 691.3L168.8 690.6L170.8 690.4L172.8 690.1L174.8 690.3L176.8 689.6L178.8 690.0L180.8 688.9L182.8 689.8L184.8 690.0L186.8 689.9L188.8 690.0L190.8 689.9L192.8 689.9L194.8 690.1L196.8 689.9L198.8 689.8L200.8 689.9L202.8 690.1L204.8 689.5L206.8 689.5L208.8 689.4L210.8 689.5L212.8 689.1L214.8 689.1L216.8 689.3L218.8 688.7L220.8 689.0L222.8 688.7L224.8 688.3L226.8 688.4L228.8 688.5L230.8 688.4L232.8 688.8L234.8 688.8L236.8 688.1L238.8 688.7L240.8 689.0L242.8 688.5L244.8 687.9L246.8 688.3L248.8 688.2L250.8 688.5L252.8 688.5L254.8 688.2L256.8 687.9L258.8 688.4L260.8 687.8L262.8 688.1L264.8 687.2L266.8 688.1L268.8 688.1L270.8 688.0L272.8 687.9L274.8 687.7L276.8 687.7L278.8 688.0L280.8 688.5L282.8 687.1L284.8 687.5L286.8 687.0L288.8 686.7L290.8 686.9L292.8 687.0L294.8 687.0L296.8 687.1L298.8 686.3L300.8 686.7L302.8 686.3L304.8 686.4L306.8 686.7L308.8 686.5L310.8 686.2L312.8 686.3L314.8 686.4L316.8 686.5L318.8 686.3L320.8 686.2L322.8 685.9L324.8 685.3L326.8 685.2L328.8 684.7L330.8 684.8L332.8 685.1L334.8 685.7L336.8 685.1L338.8 685.3L340.8 685.2L342.8 685.6L344.8 685.9L346.8 685.9L348.8 686.4L350.8 685.8L352.8 686.3L354.8 686.3L356.8 686.1L358.8 685.7L360.8 685.6L362.8 685.5L364.8 684.6L366.8 684.6L368.8 684.7L370.8 684.5L372.8 684.0L374.8 684.1L376.8 684.4L378.8 684.8L380.8 684.4L382.8 684.6L384.8 684.3L386.8 684.1L388.8 684.4L390.8 683.8L392.8 684.3L394.8 684.0L396.8 683.9L398.8 684.8L400.8 684.5L402.8 684.0L404.8 684.1L406.8 684.4L408.8 684.1L410.8 684.3L412.8 684.2L414.8 684.2L416.8 684.4L418.8 684.2L420.8 684.5L422.8 683.9L424.8 684.0L426.8 683.2L428.8 682.8L430.8 683.4L432.8 682.9L434.8 682.8L436.8 682.6L438.8 683.2L440.8 682.7L442.8 682.8L444.8 682.5L446.8 682.3L448.8 681.6L450.8 681.5L452.8 681.7L454.8 681.4L456.8 682.1L458.8 682.5L460.8 682.2L462.8 682.7L464.8 682.6L466.8 682.3L468.8 682.1L470.8 681.5L472.8 681.7L474.8 681.4L476.8 681.4L478.8 681.2L480.8 681.2L482.8 681.1L484.8 681.1L486.8 681.4L488.8 681.5L490.8 681.1L492.8 681.2L494.8 681.0L496.8 680.6L498.8 680.3L500.8 679.8L502.8 679.6L504.8 679.3L506.8 679.9L508.8 680.1L510.8 680.4L512.8 680.6L514.8 680.6L516.8 680.5L518.8 680.3L520.8 680.4L522.8 680.4L524.8 679.8L526.8 680.1L528.8 680.4L530.8 681.0L532.8 681.5L534.8 681.4L536.8 681.7L538.8 681.7L540.8 682.3L542.8 682.0L544.8 683.0L546.8 683.0L548.8 683.6L550.8 683.5L552.8 683.6L554.8 683.9L556.8 684.5L558.8 684.5L560.8 684.6L562.8 684.8L564.8 685.5L566.8 686.1L568.8 685.7L570.8 685.9L572.8 686.1L574.8 686.6L576.8 687.0L578.8 686.3L580.8 686.9L582.8 687.1L584.8 687.4L586.8 687.8L588.8 688.1L590.8 687.9L592.8 687.3L594.8 686.7L596.8 686.3L598.8 686.5L600.8 686.1L602.8 686.3L604.8 686.7L606.8 686.5L608.8 685.9L610.8 686.4L612.8 686.7L614.8 687.1L616.8 687.1L618.8 686.3L620.8 685.9L622.8 686.0L624.8 685.7L626.8 685.8L628.8 685.3L630.8 685.5L632.8 686.2L634.8 686.0L636.8 685.9L638.8 685.9L640.8 685.8L642.8 685.7L644.8 686.0L646.8 686.3L648.8 686.3L650.8 685.7L652.8 686.0L654.8 686.4L656.8 686.0L658.8 686.0L660.8 686.0L662.8 685.6L664.8 685.9L666.8 685.3L668.8 686.0L670.8 685.2L672.8 685.0L674.8 685.0L676.8 685.0L678.8 684.9L680.8 685.6L682.8 685.3L684.8 685.5L686.8 685.8L688.8 685.2L690.8 684.5L692.8 684.9L694.8 684.3L696.8 684.4L698.8 684.5L700.8 684.5L702.8 684.6L704.8 685.0L706.8 685.4L708.8 685.3L710.8 685.3L712.8 685.1L714.8 685.2L716.8 685.0L718.8 684.7L720.8 684.9L722.8 685.0L724.8 683.6L726.8 683.7L728.8 683.8L730.8 683.9L732.8 683.7L734.8 683.8L736.8 683.9L738.8 684.2L740.8 684.1L742.8 684.1L744.8 684.0L746.8 683.2L748.8 683.4L750.8 682.7L752.8 682.8L754.8 683.3L756.8 683.3L758.8 683.9L760.8 683.8L762.8 683.3L764.8 683.3L766.8 683.4L768.8 683.9L770.8 683.7L772.8 684.1L774.8 683.8L776.8 683.4L778.8 683.4L780.8 683.7L782.8 683.6L784.8 683.4L786.8 683.6L788.8 683.0L790.8 683.3L792.8 682.9L794.8 682.6L796.8 682.6L798.8 682.8L800.8 682.3L802.8 681.8L804.8 681.6L806.8 681.3L808.8 681.2L810.8 681.2L812.8 682.2L814.8 681.4L816.8 681.9L818.8 681.9L820.8 681.7L822.8 681.7L824.8 681.4L826.8 680.4L828.8 680.5L830.8 680.4L832.8 680.5L834.8 680.4L836.8 680.8L838.8 680.6L840.8 681.0L842.8 680.7L844.8 680.9L846.8 680.7L848.8 680.2L850.8 679.9L852.8 679.9L854.8 679.5L856.8 679.6L858.8 679.1L860.8 679.3L862.8 679.5L864.8 678.8L866.8 678.8L868.8 678.7L870.8 678.9L872.8 678.5L874.8 678.2L876.8 678.1L878.8 678.2L880.8 678.3L882.8 678.0L884.8 678.2L886.8 678.1L888.8 677.2L890.8 678.2L892.8 677.0L894.8 678.3L896.8 677.9L898.8 677.6L900.8 677.6L902.8 678.0L904.8 678.1L906.8 678.1L908.8 678.0L910.8 678.0L912.8 678.0L914.8 677.7L916.8 677.0L918.8 677.6L920.8 678.0L922.8 678.1L924.8 678.1L926.8 677.9L928.8 678.0L930.8 678.8L932.8 678.6L934.8 679.4L936.8 680.0L938.8 680.5L940.8 681.1L942.8 681.1L944.8 681.4L946.8 680.8L948.8 681.1L950.8 680.9L952.8 680.7L954.8 680.4L956.8 679.6L958.8 679.2L960.8 679.0L962.8 678.7L964.8 678.5L966.8 678.2L968.8 677.8L970.8 677.7L972.8 677.3L974.8 677.0L976.8 677.0L978.8 676.9L980.8 677.5L982.8 677.8L984.8 678.8L986.8 678.9L988.8 679.7L990.8 680.6L992.8 680.9L994.8 680.8L996.8 680.8L998.8 680.3L1000.8 679.9L1002.8 679.8L1004.8 679.5L1006.8 679.5L1008.8 679.4L1010.8 680.1L1012.8 681.4L1014.8 682.4L1016.8 682.9L1018.8 683.9L1020.8 685.4L1022.8 686.4L1024.8 688.0L1026.8 689.2L1028.8 690.1L1030.8 691.1L1032.8 691.2L1034.8 691.0L1036.8 691.5L1038.8 691.5L1040.8 690.8L1042.8 690.8L1044.8 690.6L1046.8 690.0L1048.8 689.3L1050.8 689.3L1052.8 689.2L1054.8 689.1L1056.8 688.4L1058.8 687.9L1060.8 688.1L1062.8 687.2L1064.8 686.6L1066.8 686.2L1068.8 686.1L1070.8 685.8L1072.8 685.0L1074.8 684.6L1076.8 684.0L1078.8 683.6L1080.8 682.3L1082.8 682.1L1084.8 681.3L1086.8 680.9L1088.8 680.4L1090.8 679.7L1092.8 678.8L1094.8 678.2L1096.8 677.6L1098.8 676.5L1100.8 676.7L1102.8 675.6L1104.8 674.9L1106.8 673.3L1108.8 672.6L1110.8 671.4L1112.8 671.1L1114.8 671.2L1116.8 670.8L1118.8 671.1L1120.8 671.0L1122.8 671.6L1124.8 671.6L1126.8 672.0L1128.8 672.4L1130.8 673.2L1132.8 673.8L1134.8 674.1L1136.8 674.5L1138.8 674.9L1140.8 675.6L1142.8 676.4L1144.8 676.7L1146.8 677.6L1148.8 678.0L1150.8 678.2L1152.8 678.9L1154.8 679.5L1156.8 679.8L1158.8 679.9L1160.8 680.2L1162.8 680.1L1164.8 680.1L1166.8 680.6L1168.8 681.2L1170.8 681.2L1172.8 681.1L1174.8 681.0L1176.8 680.5L1178.8 680.9L1180.8 681.0L1182.8 680.9L1184.8 680.8L1186.8 681.3L1188.8 681.2L1190.8 680.8L1192.8 682.2L1193.0 681.0" fill="none" stroke="#4a8dc6" stroke-width="2.0" stroke-linejoin="round" stroke-linecap="round"/>
<path d="M160.8 682.0L162.8 682.0L164.8 682.3L166.8 682.1L168.8 682.2L170.8 682.1L172.8 682.0L174.8 681.7L176.8 681.5L178.8 681.2L180.8 681.3L182.8 681.2L184.8 681.3L186.8 680.9L188.8 680.8L190.8 680.6L192.8 680.8L194.8 681.2L196.8 681.0L198.8 681.0L200.8 681.1L202.8 681.0L204.8 680.6L206.8 680.6L208.8 680.5L210.8 680.4L212.8 680.1L214.8 680.7L216.8 680.4L218.8 679.8L220.8 680.0L222.8 679.7L224.8 679.6L226.8 679.9L228.8 679.9L230.8 679.6L232.8 679.9L234.8 679.8L236.8 679.5L238.8 679.2L240.8 679.4L242.8 679.3L244.8 679.1L246.8 679.1L248.8 679.3L250.8 678.8L252.8 679.2L254.8 679.0L256.8 679.3L258.8 679.3L260.8 679.0L262.8 679.1L264.8 679.0L266.8 678.7L268.8 678.9L270.8 678.7L272.8 678.7L274.8 678.2L276.8 678.3L278.8 678.3L280.8 677.9L282.8 677.6L284.8 678.1L286.8 677.5L288.8 677.6L290.8 677.5L292.8 677.4L294.8 677.9L296.8 677.8L298.8 677.9L300.8 677.9L302.8 677.8L304.8 677.0L306.8 677.0L308.8 677.0L310.8 677.1L312.8 676.9L314.8 677.0L316.8 677.0L318.8 676.9L320.8 676.6L322.8 676.7L324.8 676.4L326.8 676.2L328.8 676.3L330.8 676.8L332.8 676.3L334.8 676.5L336.8 676.1L338.8 676.9L340.8 677.0L342.8 676.6L344.8 676.8L346.8 676.6L348.8 676.4L350.8 675.8L352.8 676.3L354.8 676.4L356.8 676.3L358.8 675.5L360.8 676.0L362.8 676.4L364.8 675.7L366.8 675.9L368.8 675.4L370.8 675.6L372.8 675.6L374.8 675.1L376.8 675.1L378.8 675.0L380.8 674.6L382.8 674.5L384.8 673.9L386.8 674.2L388.8 674.4L390.8 674.2L392.8 674.3L394.8 674.0L396.8 674.3L398.8 674.1L400.8 674.2L402.8 673.8L404.8 673.5L406.8 673.9L408.8 673.9L410.8 674.0L412.8 674.1L414.8 673.7L416.8 674.0L418.8 673.9L420.8 673.8L422.8 674.0L424.8 673.8L426.8 673.1L428.8 673.1L430.8 672.8L432.8 673.0L434.8 672.7L436.8 672.3L438.8 672.2L440.8 672.0L442.8 672.1L444.8 672.1L446.8 672.5L448.8 672.1L450.8 672.1L452.8 672.2L454.8 672.3L456.8 672.2L458.8 672.5L460.8 672.5L462.8 672.2L464.8 671.5L466.8 671.2L468.8 671.1L470.8 671.4L472.8 670.8L474.8 670.8L476.8 670.3L478.8 670.5L480.8 669.9L482.8 669.8L484.8 669.9L486.8 670.0L488.8 670.4L490.8 670.3L492.8 670.3L494.8 669.9L496.8 669.7L498.8 670.1L500.8 670.5L502.8 669.9L504.8 670.1L506.8 670.1L508.8 669.9L510.8 669.6L512.8 670.3L514.8 669.4L516.8 669.8L518.8 669.7L520.8 670.2L522.8 669.9L524.8 670.3L526.8 669.6L528.8 670.3L530.8 670.7L532.8 670.7L534.8 671.0L536.8 671.0L538.8 671.1L540.8 671.7L542.8 672.3L544.8 672.5L546.8 672.9L548.8 673.3L550.8 674.0L552.8 674.5L554.8 674.8L556.8 675.1L558.8 675.2L560.8 675.4L562.8 675.7L564.8 675.9L566.8 676.0L568.8 676.3L570.8 676.6L572.8 676.9L574.8 676.8L576.8 676.8L578.8 676.8L580.8 676.7L582.8 676.2L584.8 676.7L586.8 676.7L588.8 676.7L590.8 676.7L592.8 676.6L594.8 676.6L596.8 676.5L598.8 676.5L600.8 677.0L602.8 677.0L604.8 676.5L606.8 676.3L608.8 676.7L610.8 676.7L612.8 676.4L614.8 676.4L616.8 676.4L618.8 676.2L620.8 676.0L622.8 676.3L624.8 676.3L626.8 676.1L628.8 676.2L630.8 676.4L632.8 676.1L634.8 676.5L636.8 677.0L638.8 676.4L640.8 676.6L642.8 676.6L644.8 676.9L646.8 676.9L648.8 676.3L650.8 676.5L652.8 676.2L654.8 676.0L656.8 676.2L658.8 675.9L660.8 675.9L662.8 676.2L664.8 675.9L666.8 675.5L668.8 676.1L670.8 676.2L672.8 676.0L674.8 675.7L676.8 675.6L678.8 675.3L680.8 675.2L682.8 675.1L684.8 675.0L686.8 675.0L688.8 674.6L690.8 675.0L692.8 675.1L694.8 674.9L696.8 674.6L698.8 674.8L700.8 675.3L702.8 675.6L704.8 675.2L706.8 675.0L708.8 674.8L710.8 674.6L712.8 675.0L714.8 675.2L716.8 675.1L718.8 675.1L720.8 674.9L722.8 674.9L724.8 674.9L726.8 675.1L728.8 675.1L730.8 674.9L732.8 675.1L734.8 674.9L736.8 674.7L738.8 674.6L740.8 674.5L742.8 674.5L744.8 674.3L746.8 673.9L748.8 673.9L750.8 673.7L752.8 673.7L754.8 673.6L756.8 673.4L758.8 673.2L760.8 673.1L762.8 673.6L764.8 673.7L766.8 673.6L768.8 673.4L770.8 673.1L772.8 673.4L774.8 673.2L776.8 673.0L778.8 673.5L780.8 673.7L782.8 673.2L784.8 673.8L786.8 673.4L788.8 673.1L790.8 673.1L792.8 673.2L794.8 672.9L796.8 672.7L798.8 672.7L800.8 673.0L802.8 673.2L804.8 673.1L806.8 673.1L808.8 672.6L810.8 672.8L812.8 672.8L814.8 672.9L816.8 672.5L818.8 672.3L820.8 671.9L822.8 671.6L824.8 671.6L826.8 671.7L828.8 671.5L830.8 671.8L832.8 671.3L834.8 671.3L836.8 671.2L838.8 670.8L840.8 670.4L842.8 670.7L844.8 671.2L846.8 671.3L848.8 671.0L850.8 670.4L852.8 670.0L854.8 670.3L856.8 670.1L858.8 670.0L860.8 669.5L862.8 669.6L864.8 669.2L866.8 669.0L868.8 668.8L870.8 669.0L872.8 668.4L874.8 668.1L876.8 668.1L878.8 668.1L880.8 667.8L882.8 667.5L884.8 667.6L886.8 667.4L888.8 667.3L890.8 667.0L892.8 667.0L894.8 667.1L896.8 667.2L898.8 666.9L900.8 667.0L902.8 666.6L904.8 667.4L906.8 666.9L908.8 667.1L910.8 666.7L912.8 667.3L914.8 667.0L916.8 666.8L918.8 666.7L920.8 666.9L922.8 666.6L924.8 666.8L926.8 667.0L928.8 667.5L930.8 668.6L932.8 668.8L934.8 669.3L936.8 670.3L938.8 670.2L940.8 670.2L942.8 670.6L944.8 670.3L946.8 670.4L948.8 670.2L950.8 670.4L952.8 670.0L954.8 669.4L956.8 667.8L958.8 667.5L960.8 667.3L962.8 667.2L964.8 667.6L966.8 667.4L968.8 667.8L970.8 667.5L972.8 667.7L974.8 667.5L976.8 667.2L978.8 667.6L980.8 667.9L982.8 668.7L984.8 669.3L986.8 670.0L988.8 670.0L990.8 670.2L992.8 670.3L994.8 670.2L996.8 670.5L998.8 670.3L1000.8 669.6L1002.8 669.8L1004.8 669.6L1006.8 669.0L1008.8 669.2L1010.8 669.3L1012.8 669.7L1014.8 671.0L1016.8 671.6L1018.8 673.1L1020.8 674.6L1022.8 676.5L1024.8 678.1L1026.8 679.5L1028.8 680.7L1030.8 681.1L1032.8 681.9L1034.8 682.0L1036.8 682.0L1038.8 682.0L1040.8 681.4L1042.8 681.4L1044.8 681.3L1046.8 681.2L1048.8 681.0L1050.8 681.0L1052.8 680.4L1054.8 679.7L1056.8 679.3L1058.8 678.5L1060.8 678.2L1062.8 677.4L1064.8 677.2L1066.8 676.5L1068.8 676.2L1070.8 676.3L1072.8 676.1L1074.8 675.3L1076.8 674.7L1078.8 674.0L1080.8 673.0L1082.8 672.2L1084.8 671.4L1086.8 671.3L1088.8 670.4L1090.8 669.3L1092.8 668.2L1094.8 667.1L1096.8 666.4L1098.8 665.4L1100.8 664.7L1102.8 664.0L1104.8 663.6L1106.8 662.8L1108.8 661.5L1110.8 660.4L1112.8 659.5L1114.8 659.1L1116.8 658.9L1118.8 659.5L1120.8 659.6L1122.8 660.1L1124.8 660.8L1126.8 661.2L1128.8 661.9L1130.8 662.0L1132.8 662.9L1134.8 663.3L1136.8 663.7L1138.8 664.5L1140.8 665.3L1142.8 665.7L1144.8 666.1L1146.8 666.6L1148.8 667.2L1150.8 667.4L1152.8 667.7L1154.8 668.0L1156.8 668.3L1158.8 668.7L1160.8 669.0L1162.8 669.3L1164.8 669.4L1166.8 669.1L1168.8 669.1L1170.8 669.4L1172.8 669.5L1174.8 669.6L1176.8 669.8L1178.8 669.9L1180.8 670.4L1182.8 670.3L1184.8 670.3L1186.8 670.5L1188.8 670.5L1190.8 670.3L1192.8 670.5L1193.0 670.8" fill="none" stroke="#d87c5c" stroke-width="2.0" stroke-linejoin="round" stroke-linecap="round"/>
<path d="M160.8 675.0L162.8 674.9L164.8 674.5L166.8 674.1L168.8 674.6L170.8 674.7L172.8 674.8L174.8 674.6L176.8 674.5L178.8 674.3L180.8 674.1L182.8 674.2L184.8 674.6L186.8 674.4L188.8 674.1L190.8 674.2L192.8 673.5L194.8 673.5L196.8 673.3L198.8 673.4L200.8 673.2L202.8 673.3L204.8 673.3L206.8 673.3L208.8 673.5L210.8 673.2L212.8 673.4L214.8 673.3L216.8 673.1L218.8 673.0L220.8 672.8L222.8 672.9L224.8 672.8L226.8 673.1L228.8 672.6L230.8 672.7L232.8 672.9L234.8 673.1L236.8 673.0L238.8 672.7L240.8 672.3L242.8 672.5L244.8 672.1L246.8 672.1L248.8 672.3L250.8 672.1L252.8 671.7L254.8 671.8L256.8 671.6L258.8 671.4L260.8 671.8L262.8 671.6L264.8 671.5L266.8 671.5L268.8 671.7L270.8 671.3L272.8 671.3L274.8 671.1L276.8 671.3L278.8 671.3L280.8 671.1L282.8 671.2L284.8 671.4L286.8 671.1L288.8 670.7L290.8 670.6L292.8 670.5L294.8 670.4L296.8 670.5L298.8 670.3L300.8 670.2L302.8 670.7L304.8 670.8L306.8 670.7L308.8 670.6L310.8 670.5L312.8 670.0L314.8 670.3L316.8 670.0L318.8 669.7L320.8 669.1L322.8 669.4L324.8 669.5L326.8 669.2L328.8 669.5L330.8 669.2L332.8 669.0L334.8 668.9L336.8 668.7L338.8 668.9L340.8 669.5L342.8 669.3L344.8 669.2L346.8 668.9L348.8 668.9L350.8 668.7L352.8 668.8L354.8 668.9L356.8 668.8L358.8 668.7L360.8 668.3L362.8 668.4L364.8 668.3L366.8 668.4L368.8 668.4L370.8 668.7L372.8 668.7L374.8 668.8L376.8 669.0L378.8 668.9L380.8 668.4L382.8 668.0L384.8 667.6L386.8 667.6L388.8 667.4L390.8 667.2L392.8 667.7L394.8 667.3L396.8 667.5L398.8 667.7L400.8 668.0L402.8 667.4L404.8 667.2L406.8 667.6L408.8 667.6L410.8 667.1L412.8 667.0L414.8 667.0L416.8 666.8L418.8 667.2L420.8 667.1L422.8 667.0L424.8 666.7L426.8 666.6L428.8 666.9L430.8 666.7L432.8 666.3L434.8 666.1L436.8 666.3L438.8 666.5L440.8 666.2L442.8 665.9L444.8 665.8L446.8 666.0L448.8 665.8L450.8 666.4L452.8 665.6L454.8 665.9L456.8 665.9L458.8 665.8L460.8 665.4L462.8 664.9L464.8 664.8L466.8 665.0L468.8 665.1L470.8 665.2L472.8 665.1L474.8 664.9L476.8 664.9L478.8 665.0L480.8 664.9L482.8 664.7L484.8 664.3L486.8 664.0L488.8 663.8L490.8 663.9L492.8 664.0L494.8 664.0L496.8 663.5L498.8 663.4L500.8 663.5L502.8 663.2L504.8 663.1L506.8 663.1L508.8 662.7L510.8 662.7L512.8 662.8L514.8 662.8L516.8 662.5L518.8 662.5L520.8 662.5L522.8 663.0L524.8 663.2L526.8 663.5L528.8 663.5L530.8 663.5L532.8 664.2L534.8 664.2L536.8 664.2L538.8 664.2L540.8 664.5L542.8 664.6L544.8 665.5L546.8 666.1L548.8 666.3L550.8 666.4L552.8 666.5L554.8 667.1L556.8 667.4L558.8 667.6L560.8 667.9L562.8 668.2L564.8 668.0L566.8 668.3L568.8 668.8L570.8 669.2L572.8 669.6L574.8 669.8L576.8 669.8L578.8 669.9L580.8 670.0L582.8 670.0L584.8 670.0L586.8 669.9L588.8 669.9L590.8 669.8L592.8 669.7L594.8 669.7L596.8 669.5L598.8 669.4L600.8 669.0L602.8 668.9L604.8 669.1L606.8 669.2L608.8 669.4L610.8 669.3L612.8 669.1L614.8 669.5L616.8 669.3L618.8 669.2L620.8 669.2L622.8 669.4L624.8 669.1L626.8 669.3L628.8 669.4L630.8 669.6L632.8 669.4L634.8 669.3L636.8 669.3L638.8 669.4L640.8 669.2L642.8 669.2L644.8 669.3L646.8 669.3L648.8 669.1L650.8 669.0L652.8 668.6L654.8 668.7L656.8 668.4L658.8 668.6L660.8 668.7L662.8 669.1L664.8 669.3L666.8 669.2L668.8 669.0L670.8 668.8L672.8 668.2L674.8 668.6L676.8 668.6L678.8 668.4L680.8 668.5L682.8 668.2L684.8 667.7L686.8 668.2L688.8 668.2L690.8 668.6L692.8 668.5L694.8 668.3L696.8 668.3L698.8 667.8L700.8 667.7L702.8 667.6L704.8 667.7L706.8 667.8L708.8 667.6L710.8 667.7L712.8 667.5L714.8 667.4L716.8 667.3L718.8 667.3L720.8 667.4L722.8 667.6L724.8 667.6L726.8 668.1L728.8 667.7L730.8 667.2L732.8 667.3L734.8 667.1L736.8 667.2L738.8 667.0L740.8 667.2L742.8 666.9L744.8 666.7L746.8 666.5L748.8 666.6L750.8 666.8L752.8 666.5L754.8 666.6L756.8 666.3L758.8 666.8L760.8 666.6L762.8 666.3L764.8 666.3L766.8 666.3L768.8 666.4L770.8 665.9L772.8 665.9L774.8 665.8L776.8 665.6L778.8 665.0L780.8 665.3L782.8 665.3L784.8 665.1L786.8 664.9L788.8 664.8L790.8 664.9L792.8 664.7L794.8 664.7L796.8 665.1L798.8 665.1L800.8 664.9L802.8 664.8L804.8 664.6L806.8 664.2L808.8 664.2L810.8 664.2L812.8 663.9L814.8 663.7L816.8 663.6L818.8 663.5L820.8 663.2L822.8 663.4L824.8 663.2L826.8 662.9L828.8 662.8L830.8 663.2L832.8 663.1L834.8 663.0L836.8 663.0L838.8 662.5L840.8 662.5L842.8 662.2L844.8 662.2L846.8 662.2L848.8 662.2L850.8 662.2L852.8 662.0L854.8 661.7L856.8 662.0L858.8 662.0L860.8 661.5L862.8 661.1L864.8 661.0L866.8 661.1L868.8 660.2L870.8 660.2L872.8 660.0L874.8 660.1L876.8 659.7L878.8 659.7L880.8 659.7L882.8 659.7L884.8 659.6L886.8 659.5L888.8 659.2L890.8 659.7L892.8 659.6L894.8 659.5L896.8 659.5L898.8 659.5L900.8 659.5L902.8 658.9L904.8 659.1L906.8 658.9L908.8 658.8L910.8 658.7L912.8 658.7L914.8 658.4L916.8 658.4L918.8 658.8L920.8 658.5L922.8 659.1L924.8 658.9L926.8 658.9L928.8 659.5L930.8 660.0L932.8 660.7L934.8 661.1L936.8 661.6L938.8 661.9L940.8 661.9L942.8 661.9L944.8 661.6L946.8 661.8L948.8 662.1L950.8 662.4L952.8 662.1L954.8 661.7L956.8 661.1L958.8 660.3L960.8 660.0L962.8 660.0L964.8 659.8L966.8 659.9L968.8 659.6L970.8 659.2L972.8 659.2L974.8 658.9L976.8 659.2L978.8 659.8L980.8 660.0L982.8 660.6L984.8 661.5L986.8 662.2L988.8 662.6L990.8 663.5L992.8 663.7L994.8 663.4L996.8 663.2L998.8 662.6L1000.8 662.4L1002.8 661.9L1004.8 662.0L1006.8 661.6L1008.8 661.8L1010.8 662.2L1012.8 663.2L1014.8 663.8L1016.8 665.0L1018.8 666.4L1020.8 668.5L1022.8 670.5L1024.8 672.6L1026.8 673.5L1028.8 674.0L1030.8 674.8L1032.8 675.8L1034.8 675.9L1036.8 675.9L1038.8 675.3L1040.8 675.0L1042.8 675.0L1044.8 674.6L1046.8 674.5L1048.8 674.3L1050.8 674.2L1052.8 673.6L1054.8 673.5L1056.8 672.7L1058.8 672.0L1060.8 671.7L1062.8 671.4L1064.8 670.8L1066.8 670.5L1068.8 669.8L1070.8 669.4L1072.8 668.9L1074.8 668.4L1076.8 667.6L1078.8 666.8L1080.8 666.5L1082.8 666.0L1084.8 665.2L1086.8 665.1L1088.8 664.3L1090.8 663.0L1092.8 662.0L1094.8 661.2L1096.8 659.8L1098.8 658.6L1100.8 657.9L1102.8 656.9L1104.8 655.8L1106.8 654.5L1108.8 653.6L1110.8 652.4L1112.8 652.2L1114.8 651.4L1116.8 651.7L1118.8 651.9L1120.8 651.8L1122.8 652.0L1124.8 652.7L1126.8 653.3L1128.8 654.0L1130.8 654.5L1132.8 655.2L1134.8 655.9L1136.8 656.3L1138.8 657.0L1140.8 658.1L1142.8 658.7L1144.8 659.9L1146.8 660.3L1148.8 660.9L1150.8 660.9L1152.8 661.1L1154.8 661.2L1156.8 661.5L1158.8 661.8L1160.8 661.9L1162.8 662.1L1164.8 662.0L1166.8 662.6L1168.8 662.8L1170.8 662.8L1172.8 662.7L1174.8 662.8L1176.8 662.7L1178.8 663.3L1180.8 663.4L1182.8 663.5L1184.8 663.8L1186.8 663.5L1188.8 663.6L1190.8 663.2L1192.8 663.7L1193.0 663.4" fill="none" stroke="#e8c062" stroke-width="2.0" stroke-linejoin="round" stroke-linecap="round"/>
<text transform="translate(160.8 947.9) scale(1 1.045)" text-anchor="middle" class="t">0</text>
<text transform="translate(272.6 947.9) scale(1 1.045)" text-anchor="middle" class="t">0.1</text>
<text transform="translate(384.3 947.9) scale(1 1.045)" text-anchor="middle" class="t">0.2</text>
<text transform="translate(496.1 947.9) scale(1 1.045)" text-anchor="middle" class="t">0.3</text>
<text transform="translate(607.8 947.9) scale(1 1.045)" text-anchor="middle" class="t">0.4</text>
<text transform="translate(719.5 947.9) scale(1 1.045)" text-anchor="middle" class="t">0.5</text>
<text transform="translate(831.3 947.9) scale(1 1.045)" text-anchor="middle" class="t">0.6</text>
<text transform="translate(943.0 947.9) scale(1 1.045)" text-anchor="middle" class="t">0.7</text>
<text transform="translate(1054.8 947.9) scale(1 1.045)" text-anchor="middle" class="t">0.8</text>
<text transform="translate(1166.5 947.9) scale(1 1.045)" text-anchor="middle" class="t">0.9</text>
<text transform="translate(1278.3 947.9) scale(1 1.045)" text-anchor="middle" class="t">1</text>
<text x="718.4" y="996.5" text-anchor="middle" class="l">C / Ah</text>
<text transform="translate(63.0,148.0) rotate(-90)" text-anchor="middle" class="l">U<tspan font-size="28.0" dy="18.5">cell</tspan><tspan dy="-18.5"> / V</tspan></text>
<text transform="translate(32.0,455.8) rotate(-90)" text-anchor="middle" class="l">U<tspan font-size="28.0" dy="18.5">neg</tspan><tspan dy="-18.5"> / mV</tspan></text>
<text transform="translate(43.0,763.0) rotate(-90)" text-anchor="middle" class="l">U<tspan font-size="28.0" dy="18.5">pos</tspan><tspan dy="-18.5"> / mV</tspan></text>
<text x="0" y="31" class="p">a</text>
<text x="0" y="336.5" class="p">b</text>
<text x="0" y="643" class="p">c</text>
<text transform="translate(1210.5 367.3) scale(1 1.045)" class="a">01</text>
<text transform="translate(1210.5 493.3) scale(1 1.045)" class="a">05</text>
<text transform="translate(1210.5 565.8) scale(1 1.045)" class="a">10</text>
<text transform="translate(1210.5 673.8) scale(1 1.045)" class="a">10</text>
<text transform="translate(1210.5 750.8) scale(1 1.045)" class="a">05</text>
<text transform="translate(1210.5 864.8) scale(1 1.045)" class="a">01</text>
</g>
</svg>
</body></html>
